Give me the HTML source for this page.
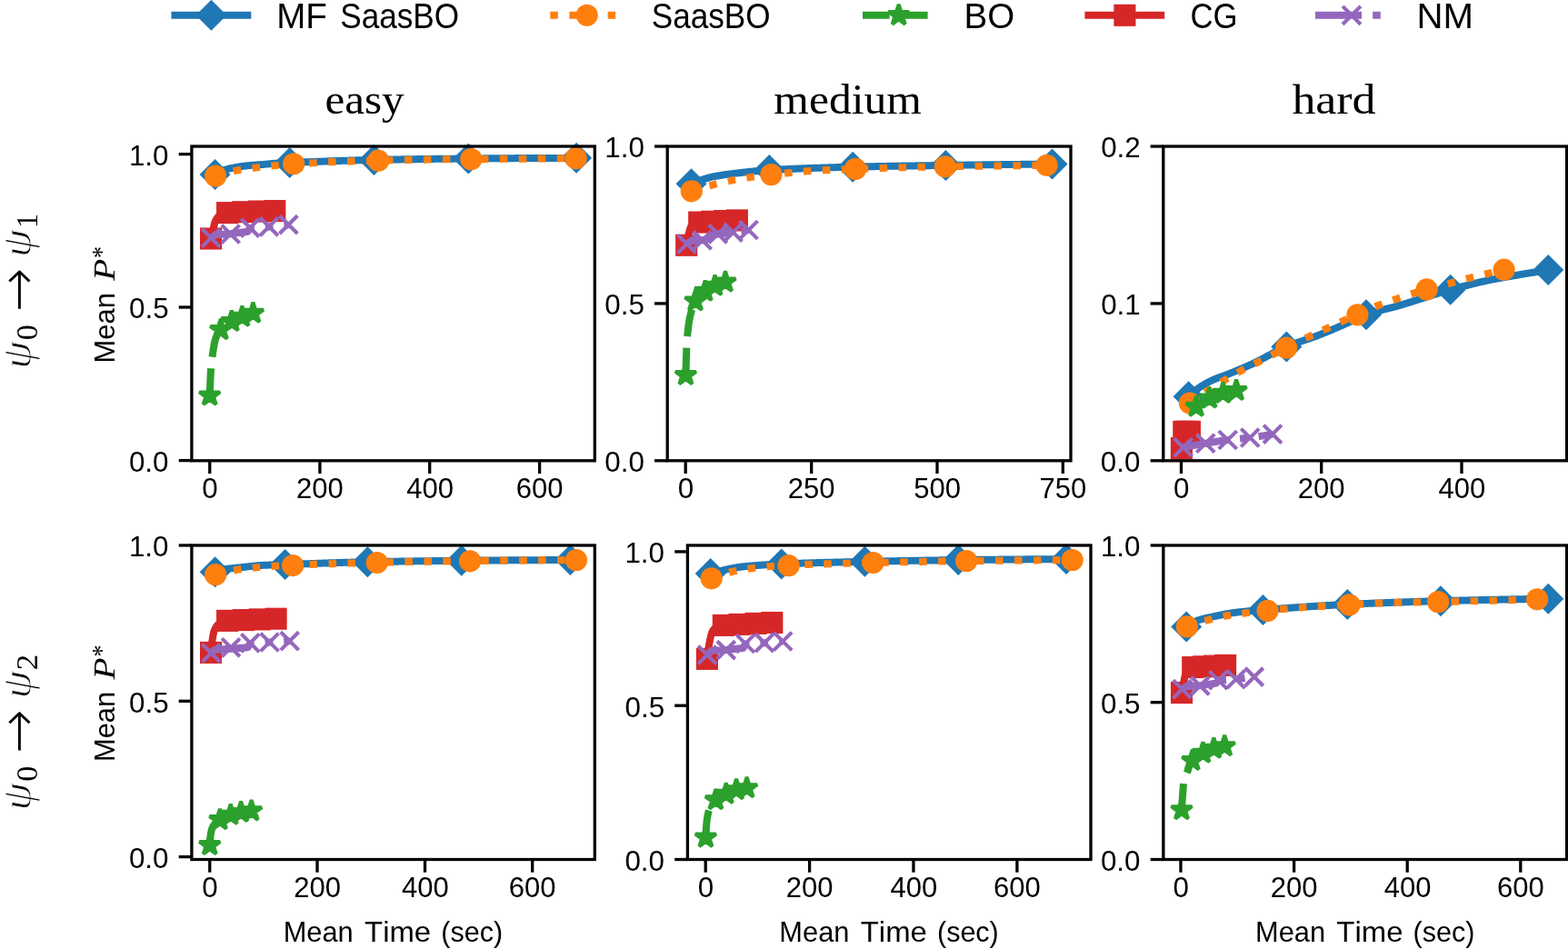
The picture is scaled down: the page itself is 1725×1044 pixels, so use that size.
<!DOCTYPE html>
<html lang="en"><head><meta charset="utf-8"><title>Mean P* vs Mean Time</title>
<style>
html,body{margin:0;padding:0;background:#fff}
body{width:1725px;height:1044px;overflow:hidden}
svg{display:block}
text{fill:#000;font-kerning:none}
</style></head>
<body>
<svg width="1725" height="1044" viewBox="0 0 1725 1044">
<rect width="1725" height="1044" fill="#fff"/>
<path d="M236.55 192.06L237.55 191.52L238.55 190.98L239.55 190.45L240.56 189.93L241.56 189.42L242.56 188.94L243.56 188.47L244.56 188.02L245.56 187.6L246.56 187.21L247.57 186.84L248.57 186.51L249.57 186.22L250 186.1L250.57 185.95L251.57 185.7L252.57 185.46L253.57 185.23L254.57 185.01L255.58 184.79L256.58 184.59L257.58 184.39L258.58 184.2L259.58 184.01L260.58 183.84L261.58 183.67L262.59 183.51L263.59 183.35L264.59 183.2L265.59 183.06L266.59 182.92L267.59 182.79L268.59 182.66L269.6 182.55L270.6 182.43L271.6 182.32L271.8 182.3L272.6 182.22L273.6 182.12L274.6 182.03L275.6 181.94L276.61 181.86L277.61 181.78L278.61 181.71L279.61 181.64L280.61 181.57L281.61 181.5L282.61 181.43L283.62 181.36L284.62 181.29L285.62 181.22L286.62 181.15L287.62 181.07L288.5 181L288.62 180.99L289.62 180.91L290.62 180.82L291.63 180.73L292.63 180.64L293.63 180.55L294.63 180.46L295.63 180.36L296.63 180.27L297.63 180.18L298.64 180.09L299.64 180L300.64 179.92L301.64 179.84L302.64 179.77L303.64 179.7L304.64 179.63L305.2 179.6L305.65 179.57L306.65 179.52L307.65 179.47L308.65 179.42L309.65 179.37L310.65 179.33L311.65 179.28L312.66 179.24L313.66 179.2L314.66 179.16L315.66 179.12L316.66 179.08L317.66 179.04L318.66 179L318.7 179L319.66 178.96L320.67 178.92L321.67 178.88L322.67 178.84L323.67 178.8L324.67 178.76L325.67 178.72L326.67 178.68L327.68 178.64L328.68 178.6L329.68 178.56L330.68 178.53L331.68 178.49L332.68 178.45L333.68 178.41L334.69 178.37L335.69 178.33L336.69 178.29L337.69 178.25L338.69 178.21L339.69 178.17L340.69 178.13L341.7 178.09L342.7 178.05L343.7 178.01L344.7 177.98L345.7 177.94L346.7 177.9L347.7 177.86L348.71 177.82L349.71 177.78L350.71 177.75L351.71 177.71L352.71 177.67L353.71 177.63L354.71 177.59L355.71 177.56L356.72 177.52L357.72 177.48L358.72 177.45L359.72 177.41L360.72 177.37L361.72 177.34L362.72 177.3L363.73 177.26L364.73 177.23L365.73 177.19L366.73 177.16L367.73 177.12L368.73 177.09L369.73 177.05L370.74 177.02L371.74 176.99L372.74 176.95L373.74 176.92L374.74 176.89L375.74 176.85L376.74 176.82L377.75 176.79L378.75 176.76L379.75 176.72L380.75 176.69L381.75 176.66L382.75 176.63L383.75 176.6L384.76 176.57L385.76 176.54L386.76 176.51L387.76 176.48L388.76 176.45L389.76 176.42L390.76 176.4L391.76 176.37L392.77 176.34L393.77 176.31L394.77 176.29L395.77 176.26L396.77 176.23L397.77 176.21L398.77 176.18L399.78 176.16L400.78 176.13L401.78 176.11L402.78 176.09L403.78 176.06L404.78 176.04L405.78 176.02L406.79 176L407.79 175.98L408.79 175.95L409.79 175.93L410.79 175.91L411.5 175.9L411.79 175.89L412.79 175.88L413.8 175.86L414.8 175.84L415.8 175.82L416.8 175.8L417.8 175.78L418.8 175.76L419.8 175.74L420.8 175.72L421.81 175.71L422.81 175.69L423.81 175.67L424.81 175.65L425.81 175.63L426.81 175.62L427.81 175.6L428.82 175.58L429.82 175.56L430.82 175.55L431.82 175.53L432.82 175.51L433.82 175.5L434.82 175.48L435.83 175.46L436.83 175.45L437.83 175.43L438.83 175.41L439.83 175.4L440.83 175.38L441.83 175.37L442.84 175.35L443.84 175.33L444.84 175.32L445.84 175.3L446.84 175.29L447.84 175.27L448.84 175.26L449.85 175.24L450.85 175.23L451.85 175.21L452.85 175.2L453.85 175.18L454.85 175.17L455.85 175.16L456.85 175.14L457.86 175.13L458.86 175.11L459.86 175.1L460.86 175.09L461.86 175.07L462.86 175.06L463.86 175.04L464.87 175.03L465.87 175.02L466.87 175L467.87 174.99L468.87 174.98L469.87 174.97L470.87 174.95L471.88 174.94L472.88 174.93L473.88 174.92L474.88 174.9L475.88 174.89L476.88 174.88L477.88 174.87L478.89 174.86L479.89 174.84L480.89 174.83L481.89 174.82L482.89 174.81L483.89 174.8L484.89 174.79L485.89 174.78L486.9 174.77L487.9 174.75L488.9 174.74L489.9 174.73L490.9 174.72L491.9 174.71L492.9 174.7L493.91 174.69L494.91 174.68L495.91 174.67L496.91 174.66L497.91 174.65L498.91 174.64L499.91 174.63L500.92 174.62L501.92 174.61L502.92 174.61L503.92 174.6L504.92 174.59L505.92 174.58L506.92 174.57L507.93 174.56L508.93 174.55L509.93 174.54L510.93 174.54L511.93 174.53L512.93 174.52L513.93 174.51L514.94 174.5L515.3 174.5L515.94 174.49L516.94 174.49L517.94 174.48L518.94 174.47L519.94 174.46L520.94 174.46L521.94 174.45L522.95 174.44L523.95 174.43L524.95 174.42L525.95 174.42L526.95 174.41L527.95 174.4L528.95 174.39L529.96 174.39L530.96 174.38L531.96 174.37L532.96 174.36L533.96 174.36L534.96 174.35L535.96 174.34L536.97 174.33L537.97 174.33L538.97 174.32L539.97 174.31L540.97 174.3L541.97 174.3L542.97 174.29L543.98 174.28L544.98 174.27L545.98 174.27L546.98 174.26L547.98 174.25L548.98 174.25L549.98 174.24L550.99 174.23L551.99 174.22L552.99 174.22L553.99 174.21L554.99 174.2L555.99 174.2L556.99 174.19L557.99 174.18L559 174.18L560 174.17L561 174.16L562 174.16L563 174.15L564 174.14L565 174.14L566.01 174.13L567.01 174.12L568.01 174.12L569.01 174.11L570.01 174.1L571.01 174.1L572.01 174.09L573.02 174.09L574.02 174.08L575.02 174.07L576.02 174.07L577.02 174.06L578.02 174.06L579.02 174.05L580.03 174.05L581.03 174.04L582.03 174.03L583.03 174.03L584.03 174.02L585.03 174.02L586.03 174.01L587.03 174.01L588.04 174L589.04 174L590.04 173.99L591.04 173.99L592.04 173.98L593.04 173.98L594.04 173.97L595.05 173.97L596.05 173.96L597.05 173.96L598.05 173.95L599.05 173.95L600.05 173.95L601.05 173.94L602.06 173.94L603.06 173.93L604.06 173.93L605.06 173.93L606.06 173.92L607.06 173.92L608.06 173.91L609.07 173.91L610.07 173.91L611.07 173.9L612.07 173.9L613.07 173.9L614.07 173.89L615.07 173.89L616.08 173.89L617.08 173.88L618.08 173.88L619.08 173.88L620.08 173.88L621.08 173.87L622.08 173.87L623.08 173.87L624.09 173.87L625.09 173.86L626.09 173.86L627.09 173.86L628.09 173.86L629.09 173.86L630.09 173.86L631.1 173.85L632.1 173.85L633.1 173.85L634.1 173.85" fill="none" stroke="#1f77b4" stroke-width="8" stroke-linecap="square" stroke-linejoin="round"/>
<path d="M236.55 175.06L253.55 192.06L236.55 209.06L219.55 192.06Z" fill="#1f77b4"/>
<path d="M318.7 162L335.7 179L318.7 196L301.7 179Z" fill="#1f77b4"/>
<path d="M411.5 158.9L428.5 175.9L411.5 192.9L394.5 175.9Z" fill="#1f77b4"/>
<path d="M515.3 157.5L532.3 174.5L515.3 191.5L498.3 174.5Z" fill="#1f77b4"/>
<path d="M634.1 156.85L651.1 173.85L634.1 190.85L617.1 173.85Z" fill="#1f77b4"/>
<path d="M237.1 193.65L238.1 193.33L239.1 193.02L240.1 192.71L241.11 192.4L242.11 192.1L243.11 191.81L244.11 191.52L245.11 191.23L246.11 190.95L247.11 190.67L248.11 190.4L249.12 190.14L250.12 189.88L251.12 189.63L252.12 189.38L253.12 189.14L254.12 188.9L255.12 188.67L256.12 188.45L257.13 188.23L258.13 188.02L259.13 187.82L260.13 187.62L261.13 187.43L261.3 187.4L262.13 187.25L263.13 187.07L264.13 186.9L265.14 186.73L266.14 186.57L267.14 186.41L268.14 186.26L269.14 186.11L270.14 185.96L271.14 185.82L272.14 185.68L273.15 185.54L274.15 185.4L275.15 185.27L276.15 185.14L277.15 185.01L278.15 184.88L279.15 184.76L280.15 184.63L281.16 184.51L282 184.4L282.16 184.38L283.16 184.26L284.16 184.14L285.16 184.02L286.16 183.9L287.16 183.78L288.16 183.67L289.17 183.55L290.17 183.44L291.17 183.33L292.17 183.22L293.17 183.11L294.17 183.01L295.17 182.9L296.17 182.8L297.18 182.7L298.18 182.59L299.18 182.49L300.18 182.39L301.18 182.29L302.18 182.19L303.1 182.1L303.18 182.09L304.18 181.99L305.19 181.89L306.19 181.79L307.19 181.69L308.19 181.59L309.19 181.49L310.19 181.4L311.19 181.3L312.19 181.2L313.2 181.11L314.2 181.01L315.2 180.92L316.2 180.83L317.2 180.75L318.2 180.66L319.2 180.58L320.2 180.5L321.21 180.43L322.21 180.36L323.1 180.3L323.21 180.29L324.21 180.23L325.21 180.17L326.21 180.11L327.21 180.06L328.21 180L329.22 179.95L330.22 179.9L331.22 179.85L332.22 179.8L333.22 179.76L334.22 179.71L335.22 179.66L336.23 179.62L337.23 179.57L338.23 179.53L339.23 179.48L340.23 179.44L341.23 179.39L342.23 179.35L343.23 179.3L344.24 179.25L345.2 179.2L345.24 179.2L346.24 179.15L347.24 179.09L348.24 179.04L349.24 178.98L350.24 178.93L351.24 178.87L352.25 178.81L353.25 178.76L354.25 178.7L355.25 178.64L356.25 178.59L357.25 178.53L358.25 178.48L359.25 178.42L360.26 178.37L361.26 178.32L362.26 178.27L363.26 178.22L364.26 178.17L365.26 178.13L366 178.1L366.26 178.09L367.26 178.05L368.27 178.01L369.27 177.97L370.27 177.93L371.27 177.9L372.27 177.86L373.27 177.83L374.27 177.79L375.27 177.76L376.28 177.72L377.28 177.69L378.28 177.66L379.28 177.63L380.28 177.6L381.28 177.57L382.28 177.54L383.28 177.51L384.29 177.48L385.29 177.45L386.29 177.42L387 177.4L387.29 177.39L388.29 177.36L389.29 177.34L390.29 177.31L391.29 177.28L392.3 177.26L393.3 177.23L394.3 177.21L395.3 177.18L396.3 177.16L397.3 177.13L398.3 177.11L399.3 177.09L400.31 177.06L401.31 177.04L402.31 177.02L403.31 177L404.31 176.97L405.31 176.95L406.31 176.93L407.31 176.9L408.32 176.88L409.32 176.86L410.32 176.84L411.32 176.81L412.32 176.79L413.32 176.77L414.32 176.74L415.32 176.72L416.2 176.7L416.33 176.7L417.33 176.67L418.33 176.65L419.33 176.62L420.33 176.6L421.33 176.57L422.33 176.55L423.33 176.52L424.34 176.5L425.34 176.47L426.34 176.44L427.34 176.42L428.34 176.39L429.34 176.37L430.34 176.34L431.34 176.32L432.35 176.29L433.35 176.26L434.35 176.24L435.35 176.21L436.35 176.19L437.35 176.16L438.35 176.14L439.36 176.12L440.36 176.09L441.36 176.07L442.36 176.05L443.36 176.03L444.36 176.01L445.36 175.98L446.36 175.96L447.37 175.94L448.37 175.93L449.37 175.91L449.8 175.9L450.37 175.89L451.37 175.87L452.37 175.86L453.37 175.84L454.37 175.83L455.38 175.81L456.38 175.8L457.38 175.78L458.38 175.77L459.38 175.75L460.38 175.74L461.38 175.73L462.38 175.71L463.39 175.7L464.39 175.69L465.39 175.68L466.39 175.66L467.39 175.65L468.39 175.63L469.39 175.62L470.39 175.61L470.9 175.6L471.4 175.59L472.4 175.58L473.4 175.56L474.4 175.55L475.4 175.53L476.4 175.52L477.4 175.5L478.4 175.49L479.41 175.47L480.41 175.45L481.41 175.44L482.41 175.42L483.41 175.41L484.41 175.39L485.41 175.38L486.41 175.37L487.42 175.35L488.42 175.34L489.42 175.33L490.42 175.32L491.42 175.3L491.9 175.3L492.42 175.29L493.42 175.29L494.42 175.28L495.43 175.27L496.43 175.26L497.43 175.25L498.43 175.24L499.43 175.23L500.43 175.23L501.43 175.22L502.43 175.21L503.44 175.2L504.44 175.2L505.44 175.19L506.44 175.18L507.44 175.18L508.44 175.17L509.44 175.16L510.44 175.16L511.45 175.15L512.45 175.14L513.45 175.14L514.45 175.13L515.45 175.12L516.45 175.11L517.45 175.11L518.3 175.1L518.45 175.1L519.46 175.09L520.46 175.08L521.46 175.08L522.46 175.07L523.46 175.06L524.46 175.05L525.46 175.05L526.46 175.04L527.47 175.03L528.47 175.02L529.47 175.01L530.47 175.01L531.47 175L532.47 174.99L533.47 174.98L534.48 174.98L535.48 174.97L536.48 174.96L537.48 174.95L538.48 174.94L539.48 174.94L540.48 174.93L541.48 174.92L542.49 174.91L543.49 174.91L544.49 174.9L545.49 174.89L546.49 174.88L547.49 174.88L548.49 174.87L549.49 174.86L550.5 174.85L551.5 174.84L552.5 174.84L553.5 174.83L554.5 174.82L555.5 174.81L556.5 174.81L557.5 174.8L558.51 174.79L559.51 174.78L560.51 174.77L561.51 174.77L562.51 174.76L563.51 174.75L564.51 174.74L565.51 174.74L566.52 174.73L567.52 174.72L568.52 174.71L569.52 174.7L570.52 174.7L571.52 174.69L572.52 174.68L573.52 174.67L574.53 174.67L575.53 174.66L576.53 174.65L577.53 174.64L578.53 174.63L579.53 174.63L580.53 174.62L581.53 174.61L582.54 174.6L583.54 174.6L584.54 174.59L585.54 174.58L586.54 174.57L587.54 174.56L588.54 174.56L589.54 174.55L590.55 174.54L591.55 174.53L592.55 174.52L593.55 174.52L594.55 174.51L595.55 174.5L596.55 174.49L597.55 174.49L598.56 174.48L599.56 174.47L600.56 174.46L601.56 174.45L602.56 174.45L603.56 174.44L604.56 174.43L605.56 174.42L606.57 174.41L607.57 174.41L608.57 174.4L609.57 174.39L610.57 174.38L611.57 174.38L612.57 174.37L613.57 174.36L614.58 174.35L615.58 174.34L616.58 174.34L617.58 174.33L618.58 174.32L619.58 174.31L620.58 174.3L621.58 174.3L622.59 174.29L623.59 174.28L624.59 174.27L625.59 174.26L626.59 174.26L627.59 174.25L628.59 174.24L629.59 174.23L630.6 174.22L631.6 174.22L632.6 174.21L633.6 174.2" fill="none" stroke="#ff7f0e" stroke-width="8" stroke-linecap="butt" stroke-linejoin="round" stroke-dasharray="8.5 12.47" stroke-dashoffset="0.5"/>
<circle cx="237.1" cy="193.65" r="12.1" fill="#ff7f0e"/>
<circle cx="323.1" cy="180.3" r="12.1" fill="#ff7f0e"/>
<circle cx="416.2" cy="176.7" r="12.1" fill="#ff7f0e"/>
<circle cx="518.3" cy="175.1" r="12.1" fill="#ff7f0e"/>
<circle cx="633.6" cy="174.2" r="12.1" fill="#ff7f0e"/>
<path d="M230.7 435.2L231.71 410.98L232.1 405L232.73 398.52L233.5 392.7L233.74 390.94L234.76 384.03L235.77 378.18L236.5 375L236.79 373.96L237.8 370.75L238.82 368.2L239.6 366.7L239.83 366.32L240.85 364.89L241.86 363.74L242.8 362.8L242.88 362.72L243.89 361.75L244.91 360.83L245.92 359.94L246.94 359.09L247.95 358.28L248.97 357.5L249.98 356.76L251 356.05L252.01 355.38L253.03 354.74L254.04 354.13L254.8 353.7L255.06 353.56L256.07 353.01L257.09 352.48L258.1 351.98L259.12 351.5L260.13 351.04L261.15 350.6L262.16 350.18L263.18 349.76L264.19 349.36L265.21 348.96L266.22 348.57L266.4 348.5L267.24 348.18L268.25 347.8L269.27 347.43L270.28 347.07L271.3 346.71L272.31 346.37L273.33 346.03L274.34 345.7L275.36 345.39L276.37 345.08L277.39 344.78L278.4 344.5" fill="none" stroke="#2ca02c" stroke-width="8" stroke-linecap="butt" stroke-linejoin="round" stroke-dasharray="30 12.6"/>
<polygon points="230.7,423.2 233.39,431.49 242.11,431.49 235.06,436.62 237.75,444.91 230.7,439.78 223.65,444.91 226.34,436.62 219.29,431.49 228.01,431.49" fill="#2ca02c" stroke="#2ca02c" stroke-width="4" stroke-linejoin="bevel"/>
<polygon points="242.8,350.8 245.49,359.09 254.21,359.09 247.16,364.22 249.85,372.51 242.8,367.38 235.75,372.51 238.44,364.22 231.39,359.09 240.11,359.09" fill="#2ca02c" stroke="#2ca02c" stroke-width="4" stroke-linejoin="bevel"/>
<polygon points="254.8,341.7 257.49,349.99 266.21,349.99 259.16,355.12 261.85,363.41 254.8,358.28 247.75,363.41 250.44,355.12 243.39,349.99 252.11,349.99" fill="#2ca02c" stroke="#2ca02c" stroke-width="4" stroke-linejoin="bevel"/>
<polygon points="266.4,336.5 269.09,344.79 277.81,344.79 270.76,349.92 273.45,358.21 266.4,353.08 259.35,358.21 262.04,349.92 254.99,344.79 263.71,344.79" fill="#2ca02c" stroke="#2ca02c" stroke-width="4" stroke-linejoin="bevel"/>
<polygon points="278.4,332.5 281.09,340.79 289.81,340.79 282.76,345.92 285.45,354.21 278.4,349.08 271.35,354.21 274.04,345.92 266.99,340.79 275.71,340.79" fill="#2ca02c" stroke="#2ca02c" stroke-width="4" stroke-linejoin="bevel"/>
<path d="M232.05 262.5L233.05 258.37L234.06 254.24L234.6 252L235.06 249.97L236.06 245.72L236.3 245L237.07 243.1L238.07 241.07L239.08 239.52L239.5 239L240.08 238.37L241.08 237.39L242.09 236.56L243.09 235.92L244 235.5L244.09 235.47L245.1 235.13L246.1 234.83L247.1 234.58L248.11 234.38L249.11 234.22L250.1 234.1L250.11 234.1L251.12 234.01L252.12 233.93L253.12 233.85L254.13 233.78L255.13 233.72L256.14 233.67L257.14 233.61L258.14 233.57L259.15 233.52L260.15 233.48L261.15 233.44L262.16 233.4L263.16 233.37L264.16 233.33L265.17 233.29L266.17 233.25L267.18 233.21L267.3 233.2L268.18 233.16L269.18 233.12L270.19 233.07L271.19 233.03L272.19 232.99L273.2 232.95L274.2 232.91L275.2 232.87L276.21 232.83L277.21 232.79L278.21 232.75L279.22 232.71L280.22 232.67L281.23 232.64L282.23 232.6L283.23 232.57L284.24 232.53L285.2 232.5L285.24 232.5L286.24 232.47L287.25 232.43L288.25 232.4L289.25 232.37L290.26 232.34L291.26 232.31L292.26 232.28L293.27 232.24L294.27 232.22L295.28 232.19L296.28 232.16L297.28 232.13L298.29 232.1L299.29 232.08L300.29 232.05L301.3 232.02L302.3 232" fill="none" stroke="#d62728" stroke-width="8" stroke-linecap="square" stroke-linejoin="round"/>
<rect x="220" y="250.45" width="24.1" height="24.1" fill="#d62728"/>
<rect x="238.05" y="222.05" width="24.1" height="24.1" fill="#d62728"/>
<rect x="255.25" y="221.15" width="24.1" height="24.1" fill="#d62728"/>
<rect x="273.15" y="220.45" width="24.1" height="24.1" fill="#d62728"/>
<rect x="290.25" y="219.95" width="24.1" height="24.1" fill="#d62728"/>
<path d="M232.1 261.7L237 258.3L253.7 257.3L265 255.8L272.5 254.8L275.1 251L285 250.3L294 250L296 249.3L306 248.5L315 248L317.4 247.1" fill="none" stroke="#9467bd" stroke-width="8" stroke-linecap="butt" stroke-linejoin="round" stroke-dasharray="51.1 12 8.7 12"/>
<path d="M222.2 251.8L242 271.6M222.2 271.6L242 251.8" stroke="#9467bd" stroke-width="4.1" fill="none"/>
<path d="M243.8 247.6L263.6 267.4M243.8 267.4L263.6 247.6" stroke="#9467bd" stroke-width="4.1" fill="none"/>
<path d="M265.2 240.7L285 260.5M265.2 260.5L285 240.7" stroke="#9467bd" stroke-width="4.1" fill="none"/>
<path d="M286.1 239.4L305.9 259.2M286.1 259.2L305.9 239.4" stroke="#9467bd" stroke-width="4.1" fill="none"/>
<path d="M307.5 237.2L327.3 257M307.5 257L327.3 237.2" stroke="#9467bd" stroke-width="4.1" fill="none"/>
<path d="M230.75 506.8V521" stroke="#000" stroke-width="3.3"/>
<path d="M351.9 506.8V521" stroke="#000" stroke-width="3.3"/>
<path d="M472.7 506.8V521" stroke="#000" stroke-width="3.3"/>
<path d="M593.6 506.8V521" stroke="#000" stroke-width="3.3"/>
<path d="M210.9 506.6H196.7" stroke="#000" stroke-width="3.3"/>
<path d="M210.9 338H196.7" stroke="#000" stroke-width="3.3"/>
<path d="M210.9 169.6H196.7" stroke="#000" stroke-width="3.3"/>
<rect x="210.9" y="161" width="443.4" height="345.8" fill="none" stroke="#000" stroke-width="3.3"/>
<text transform="translate(222.23 547.8) scale(0.9800 1)" font-family='"Liberation Sans", sans-serif' font-size="32">0</text>
<text transform="translate(326.03 547.8) scale(0.9700 1)" font-family='"Liberation Sans", sans-serif' font-size="32">200</text>
<text transform="translate(447.26 547.8) scale(0.9700 1)" font-family='"Liberation Sans", sans-serif' font-size="32">400</text>
<text transform="translate(567.72 547.8) scale(0.9700 1)" font-family='"Liberation Sans", sans-serif' font-size="32">600</text>
<text transform="translate(141.93 519) scale(0.9800 1)" font-family='"Liberation Sans", sans-serif' font-size="32">0.0</text>
<text transform="translate(142.02 350.4) scale(0.9800 1)" font-family='"Liberation Sans", sans-serif' font-size="32">0.5</text>
<text transform="translate(141.93 182) scale(0.9800 1)" font-family='"Liberation Sans", sans-serif' font-size="32">1.0</text>
<path d="M760.5 202.2L761.5 201.8L762.5 201.4L763.5 201L764.5 200.61L765.5 200.23L766.5 199.85L767.5 199.48L768.5 199.12L769.5 198.76L770.5 198.41L771.5 198.06L772.5 197.73L773.5 197.4L774.5 197.08L775.5 196.77L776.5 196.47L777.5 196.17L778.5 195.89L779.5 195.62L780.5 195.35L781.5 195.1L782.5 194.86L783.5 194.63L784.5 194.41L785.5 194.2L786.5 194L787.5 193.81L788.5 193.62L789.5 193.44L790.5 193.26L791.5 193.09L792.5 192.93L793.5 192.77L794.5 192.61L795.5 192.46L796.5 192.31L797.5 192.16L798.5 192.02L799.5 191.88L800.5 191.75L801.5 191.62L802.5 191.49L803.5 191.36L804.5 191.23L805.5 191.11L806.5 190.99L807.5 190.87L808.5 190.75L809.5 190.63L810.5 190.51L810.6 190.5L811.5 190.39L812.5 190.28L813.5 190.16L814.5 190.05L815.5 189.93L816.5 189.82L817.5 189.7L818.5 189.59L819.5 189.48L820.5 189.37L821.5 189.26L822.5 189.15L823.5 189.04L824.5 188.94L825.5 188.83L826.5 188.73L827.5 188.63L828.5 188.53L829.5 188.43L830.5 188.33L831.5 188.24L832.5 188.15L833.5 188.06L834.5 187.97L835.5 187.88L836.5 187.8L837.5 187.71L838.5 187.63L839.5 187.56L840.5 187.48L841.5 187.41L842.5 187.34L843.5 187.27L844.5 187.21L845.5 187.15L846.3 187.1L846.5 187.09L847.5 187.03L848.5 186.97L849.5 186.92L850.5 186.86L851.5 186.81L852.5 186.75L853.5 186.7L854.5 186.65L855.5 186.59L856.5 186.54L857.5 186.49L858.5 186.44L859.5 186.39L860.5 186.34L861.5 186.29L862.5 186.24L863.5 186.19L864.5 186.14L865.5 186.1L866.5 186.05L867.5 186L868.5 185.96L869.5 185.91L870.5 185.86L871.5 185.82L872.5 185.77L873.5 185.73L874.5 185.69L875.5 185.64L876.5 185.6L877.5 185.56L878.5 185.52L879.5 185.48L880.5 185.44L881.5 185.4L882.5 185.36L883.5 185.32L884.5 185.28L885.5 185.24L886.5 185.2L887.5 185.16L888.5 185.12L889.5 185.09L890.5 185.05L891.5 185.01L892.5 184.98L893.5 184.94L894.5 184.91L895.5 184.87L896.5 184.84L897.5 184.8L898.5 184.77L899.5 184.73L900.5 184.7L901.5 184.67L902.5 184.64L903.5 184.6L904.5 184.57L905.5 184.54L906.5 184.51L907.5 184.48L908.5 184.45L909.5 184.42L910.5 184.39L911.5 184.36L912.5 184.33L913.5 184.3L914.5 184.27L915.5 184.24L916.5 184.21L917.5 184.18L918.5 184.15L919.5 184.13L920.5 184.1L921.5 184.07L922.5 184.05L923.5 184.02L924.5 183.99L925.5 183.97L926.5 183.94L927.5 183.91L928.5 183.89L929.5 183.86L930.5 183.84L931.5 183.81L932.5 183.79L933.5 183.76L934.5 183.74L935.5 183.71L936.5 183.69L937.5 183.67L938.2 183.65L938.5 183.64L939.5 183.62L940.5 183.6L941.5 183.57L942.5 183.55L943.5 183.53L944.5 183.5L945.5 183.48L946.5 183.46L947.5 183.44L948.5 183.42L949.5 183.39L950.5 183.37L951.5 183.35L952.5 183.33L953.5 183.31L954.5 183.29L955.5 183.27L956.5 183.25L957.5 183.23L958.5 183.21L959.5 183.19L960.5 183.17L961.5 183.15L962.5 183.13L963.5 183.11L964.5 183.09L965.5 183.07L966.5 183.05L967.5 183.03L968.5 183.01L969.5 182.99L970.5 182.98L971.5 182.96L972.5 182.94L973.5 182.92L974.5 182.9L975.5 182.88L976.5 182.87L977.5 182.85L978.5 182.83L979.5 182.81L980.5 182.8L981.5 182.78L982.5 182.76L983.5 182.75L984.5 182.73L985.5 182.71L986.5 182.7L987.5 182.68L988.5 182.66L989.5 182.65L990.5 182.63L991.5 182.61L992.5 182.6L993.5 182.58L994.5 182.57L995.5 182.55L996.5 182.53L997.5 182.52L998.5 182.5L999.5 182.49L1000.5 182.47L1001.5 182.46L1002.5 182.44L1003.5 182.43L1004.5 182.41L1005.5 182.4L1006.5 182.38L1007.5 182.37L1008.5 182.35L1009.5 182.34L1010.5 182.32L1011.5 182.31L1012.5 182.29L1013.5 182.28L1014.5 182.26L1015.5 182.25L1016.5 182.24L1017.5 182.22L1018.5 182.21L1019.5 182.19L1020.5 182.18L1021.5 182.16L1022.5 182.15L1023.5 182.14L1024.5 182.12L1025.5 182.11L1026.5 182.09L1027.5 182.08L1028.5 182.07L1029.5 182.05L1030.5 182.04L1031.5 182.02L1032.5 182.01L1033.5 182L1034.5 181.98L1035.5 181.97L1036.5 181.95L1037.5 181.94L1038.5 181.93L1039.5 181.91L1040.4 181.9L1040.5 181.9L1041.5 181.88L1042.5 181.87L1043.5 181.86L1044.5 181.84L1045.5 181.83L1046.5 181.82L1047.5 181.8L1048.5 181.79L1049.5 181.78L1050.5 181.76L1051.5 181.75L1052.5 181.73L1053.5 181.72L1054.5 181.71L1055.5 181.69L1056.5 181.68L1057.5 181.67L1058.5 181.65L1059.5 181.64L1060.5 181.63L1061.5 181.61L1062.5 181.6L1063.5 181.59L1064.5 181.58L1065.5 181.56L1066.5 181.55L1067.5 181.54L1068.5 181.52L1069.5 181.51L1070.5 181.5L1071.5 181.48L1072.5 181.47L1073.5 181.46L1074.5 181.45L1075.5 181.43L1076.5 181.42L1077.5 181.41L1078.5 181.4L1079.5 181.38L1080.5 181.37L1081.5 181.36L1082.5 181.35L1083.5 181.33L1084.5 181.32L1085.5 181.31L1086.5 181.3L1087.5 181.28L1088.5 181.27L1089.5 181.26L1090.5 181.25L1091.5 181.24L1092.5 181.22L1093.5 181.21L1094.5 181.2L1095.5 181.19L1096.5 181.18L1097.5 181.16L1098.5 181.15L1099.5 181.14L1100.5 181.13L1101.5 181.12L1102.5 181.11L1103.5 181.09L1104.5 181.08L1105.5 181.07L1106.5 181.06L1107.5 181.05L1108.5 181.04L1109.5 181.03L1110.5 181.02L1111.5 181L1112.5 180.99L1113.5 180.98L1114.5 180.97L1115.5 180.96L1116.5 180.95L1117.5 180.94L1118.5 180.93L1119.5 180.92L1120.5 180.91L1121.5 180.9L1122.5 180.89L1123.5 180.87L1124.5 180.86L1125.5 180.85L1126.5 180.84L1127.5 180.83L1128.5 180.82L1129.5 180.81L1130.5 180.8L1131.5 180.79L1132.5 180.78L1133.5 180.77L1134.5 180.76L1135.5 180.75L1136.5 180.74L1137.5 180.73L1138.5 180.72L1139.5 180.71L1140.5 180.7L1141.5 180.69L1142.5 180.68L1143.5 180.68L1144.5 180.67L1145.5 180.66L1146.5 180.65L1147.5 180.64L1148.5 180.63L1149.5 180.62L1150.5 180.61L1151.5 180.6L1152.5 180.59L1153.5 180.58L1154.5 180.58L1155.5 180.57L1156.5 180.56L1157.5 180.55" fill="none" stroke="#1f77b4" stroke-width="8" stroke-linecap="square" stroke-linejoin="round"/>
<path d="M760.5 185.2L777.5 202.2L760.5 219.2L743.5 202.2Z" fill="#1f77b4"/>
<path d="M846.3 170.1L863.3 187.1L846.3 204.1L829.3 187.1Z" fill="#1f77b4"/>
<path d="M938.2 166.65L955.2 183.65L938.2 200.65L921.2 183.65Z" fill="#1f77b4"/>
<path d="M1040.4 164.9L1057.4 181.9L1040.4 198.9L1023.4 181.9Z" fill="#1f77b4"/>
<path d="M1157.5 163.55L1174.5 180.55L1157.5 197.55L1140.5 180.55Z" fill="#1f77b4"/>
<path d="M760.8 210.3L761.8 209.98L762.8 209.66L763.81 209.34L764.81 209.02L765.81 208.71L766.81 208.4L767.81 208.09L768.82 207.79L769.82 207.49L770.82 207.18L771.82 206.89L772.82 206.59L773.83 206.3L774.83 206.01L775.83 205.72L776.83 205.44L777.83 205.15L778.84 204.88L779.84 204.6L780.84 204.32L781.84 204.05L782.85 203.78L783.85 203.52L784.3 203.4L784.85 203.26L785.85 202.99L786.85 202.73L787.86 202.47L788.86 202.22L789.86 201.96L790.86 201.71L791.86 201.45L792.87 201.2L793.87 200.96L794.87 200.71L795.87 200.47L796.87 200.24L797.88 200L798.88 199.77L799.88 199.55L800.88 199.32L801.88 199.11L802.89 198.89L803.89 198.68L804.89 198.48L805.3 198.4L805.89 198.28L806.89 198.09L807.9 197.9L808.9 197.71L809.9 197.52L810.9 197.34L811.9 197.15L812.91 196.98L813.91 196.8L814.91 196.63L815.91 196.46L816.91 196.29L817.92 196.13L818.92 195.96L819.92 195.8L820.92 195.65L821.93 195.49L822.93 195.34L823.93 195.19L824.93 195.04L825.9 194.9L825.93 194.9L826.94 194.75L827.94 194.61L828.94 194.47L829.94 194.34L830.94 194.2L831.95 194.07L832.95 193.94L833.95 193.81L834.95 193.68L835.95 193.55L836.96 193.43L837.96 193.31L838.96 193.18L839.96 193.06L840.96 192.95L841.97 192.83L842.97 192.71L843.97 192.6L844.97 192.48L845.97 192.37L846.98 192.26L847.98 192.15L848.4 192.1L848.98 192.04L849.98 191.93L850.98 191.82L851.99 191.72L852.99 191.61L853.99 191.51L854.99 191.41L855.99 191.31L857 191.21L858 191.11L859 191.01L860 190.91L861.01 190.82L862.01 190.72L863.01 190.63L864.01 190.53L865.01 190.44L866.02 190.34L867.02 190.25L867.5 190.2L868.02 190.15L869.02 190.05L870.02 189.96L871.03 189.86L872.03 189.76L873.03 189.66L874.03 189.57L875.03 189.47L876.04 189.37L877.04 189.27L878.04 189.18L879.04 189.08L880.04 188.99L881.05 188.9L882.05 188.81L883.05 188.72L884.05 188.64L885.05 188.55L886.06 188.47L887.06 188.4L888.06 188.32L888.4 188.3L889.06 188.25L890.06 188.18L891.07 188.12L892.07 188.05L893.07 187.98L894.07 187.92L895.07 187.86L896.08 187.8L897.08 187.73L898.08 187.68L899.08 187.62L900.09 187.56L901.09 187.5L902.09 187.45L903.09 187.4L904.09 187.34L905.1 187.29L906.1 187.24L907.1 187.19L908.1 187.15L909.1 187.1L909.1 187.1L910.11 187.05L911.11 187.01L912.11 186.96L913.11 186.92L914.11 186.88L915.12 186.84L916.12 186.8L917.12 186.76L918.12 186.72L919.12 186.68L920.13 186.64L921.13 186.6L922.13 186.56L923.13 186.53L924.13 186.49L925.14 186.45L926.14 186.42L927.14 186.38L928.14 186.35L929.14 186.31L930.15 186.28L931.15 186.24L932.15 186.21L933.15 186.17L934.15 186.14L935.16 186.1L936.16 186.07L937.16 186.04L938.16 186L939.17 185.97L940.17 185.93L941.1 185.9L941.17 185.9L942.17 185.86L943.17 185.83L944.18 185.8L945.18 185.76L946.18 185.73L947.18 185.7L948.18 185.66L949.19 185.63L950.19 185.6L951.19 185.57L952.19 185.53L953.19 185.5L954.2 185.47L955.2 185.44L956.2 185.41L957.2 185.38L958.2 185.34L959.21 185.31L960.21 185.28L961.21 185.25L962.21 185.22L963.21 185.19L964.22 185.16L965.22 185.12L966.22 185.09L967.22 185.06L968.22 185.03L969.23 185L970.23 184.96L971.23 184.93L972.2 184.9L972.23 184.9L973.23 184.87L974.24 184.83L975.24 184.8L976.24 184.76L977.24 184.73L978.25 184.69L979.25 184.66L980.25 184.62L981.25 184.59L982.25 184.55L983.26 184.52L984.26 184.48L985.26 184.45L986.26 184.42L987.26 184.38L988.27 184.35L989.27 184.32L990.27 184.29L991.27 184.26L992.27 184.23L993.2 184.2L993.28 184.2L994.28 184.17L995.28 184.14L996.28 184.11L997.28 184.09L998.29 184.06L999.29 184.03L1000.29 184.01L1001.29 183.98L1002.29 183.96L1003.3 183.93L1004.3 183.91L1005.3 183.88L1006.3 183.86L1007.3 183.84L1008.31 183.82L1009.31 183.79L1010.31 183.77L1011.31 183.75L1012.31 183.73L1013.32 183.71L1013.9 183.7L1014.32 183.69L1015.32 183.67L1016.32 183.66L1017.33 183.64L1018.33 183.62L1019.33 183.6L1020.33 183.59L1021.33 183.57L1022.34 183.55L1023.34 183.54L1024.34 183.52L1025.34 183.51L1026.34 183.49L1027.35 183.48L1028.35 183.46L1029.35 183.45L1030.35 183.43L1031.35 183.42L1032.36 183.41L1033.36 183.39L1034.36 183.38L1035.36 183.36L1036.36 183.35L1037.37 183.34L1038.37 183.32L1039.37 183.31L1039.8 183.3L1040.37 183.29L1041.37 183.28L1042.38 183.26L1043.38 183.25L1044.38 183.23L1045.38 183.22L1046.38 183.2L1047.39 183.19L1048.39 183.18L1049.39 183.16L1050.39 183.15L1051.39 183.13L1052.4 183.12L1053.4 183.1L1054.4 183.09L1055.4 183.07L1056.41 183.06L1057.41 183.05L1058.41 183.03L1059.41 183.02L1060.41 183L1061.42 182.99L1062.42 182.97L1063.42 182.96L1064.42 182.95L1065.42 182.93L1066.43 182.92L1067.43 182.9L1068.43 182.89L1069.43 182.87L1070.43 182.86L1071.44 182.85L1072.44 182.83L1073.44 182.82L1074.44 182.8L1075.44 182.79L1076.45 182.78L1077.45 182.76L1078.45 182.75L1079.45 182.73L1080.45 182.72L1081.46 182.71L1082.46 182.69L1083.46 182.68L1084.46 182.66L1085.46 182.65L1086.47 182.64L1087.47 182.62L1088.47 182.61L1089.47 182.6L1090.47 182.58L1091.48 182.57L1092.48 182.55L1093.48 182.54L1094.48 182.53L1095.49 182.51L1096.49 182.5L1097.49 182.49L1098.49 182.47L1099.49 182.46L1100.5 182.45L1101.5 182.43L1102.5 182.42L1103.5 182.41L1104.5 182.39L1105.51 182.38L1106.51 182.37L1107.51 182.35L1108.51 182.34L1109.51 182.33L1110.52 182.31L1111.52 182.3L1112.52 182.29L1113.52 182.27L1114.52 182.26L1115.53 182.25L1116.53 182.23L1117.53 182.22L1118.53 182.21L1119.53 182.2L1120.54 182.18L1121.54 182.17L1122.54 182.16L1123.54 182.14L1124.54 182.13L1125.55 182.12L1126.55 182.11L1127.55 182.09L1128.55 182.08L1129.55 182.07L1130.56 182.06L1131.56 182.04L1132.56 182.03L1133.56 182.02L1134.57 182.01L1135.57 181.99L1136.57 181.98L1137.57 181.97L1138.57 181.96L1139.58 181.94L1140.58 181.93L1141.58 181.92L1142.58 181.91L1143.58 181.9L1144.59 181.88L1145.59 181.87L1146.59 181.86L1147.59 181.85L1148.59 181.84L1149.6 181.82L1150.6 181.81L1151.6 181.8" fill="none" stroke="#ff7f0e" stroke-width="8" stroke-linecap="butt" stroke-linejoin="round" stroke-dasharray="8.5 12.47" stroke-dashoffset="0.5"/>
<circle cx="760.8" cy="210.3" r="12.1" fill="#ff7f0e"/>
<circle cx="848.4" cy="192.1" r="12.1" fill="#ff7f0e"/>
<circle cx="941.1" cy="185.9" r="12.1" fill="#ff7f0e"/>
<circle cx="1039.8" cy="183.3" r="12.1" fill="#ff7f0e"/>
<circle cx="1151.6" cy="181.8" r="12.1" fill="#ff7f0e"/>
<path d="M754.4 412.6L755.3 383L755.41 380.7L756.1 370.5L756.43 367.11L757.44 358.23L758.46 351.59L759.1 348.4L759.47 346.82L760.48 342.84L761.5 339.39L762.51 336.44L763.53 333.97L764.54 331.96L765 331.2L765.55 330.36L766.57 328.93L767.58 327.65L768.6 326.48L769.61 325.43L770.62 324.46L771.64 323.58L772.65 322.75L773.67 321.98L774.68 321.23L775.69 320.5L775.7 320.5L776.71 319.8L777.72 319.13L778.73 318.49L779.75 317.89L780.76 317.32L781.78 316.77L782.79 316.25L783.8 315.74L784.82 315.26L785.83 314.8L786.5 314.5L786.85 314.35L787.86 313.91L788.87 313.48L789.89 313.06L790.9 312.66L791.92 312.27L792.93 311.9L793.94 311.54L794.96 311.2L795.97 310.88L796.99 310.58L798 310.3" fill="none" stroke="#2ca02c" stroke-width="8" stroke-linecap="butt" stroke-linejoin="round" stroke-dasharray="30 12.6"/>
<polygon points="754.4,400.6 757.09,408.89 765.81,408.89 758.76,414.02 761.45,422.31 754.4,417.18 747.35,422.31 750.04,414.02 742.99,408.89 751.71,408.89" fill="#2ca02c" stroke="#2ca02c" stroke-width="4" stroke-linejoin="bevel"/>
<polygon points="765,319.2 767.69,327.49 776.41,327.49 769.36,332.62 772.05,340.91 765,335.78 757.95,340.91 760.64,332.62 753.59,327.49 762.31,327.49" fill="#2ca02c" stroke="#2ca02c" stroke-width="4" stroke-linejoin="bevel"/>
<polygon points="775.7,308.5 778.39,316.79 787.11,316.79 780.06,321.92 782.75,330.21 775.7,325.08 768.65,330.21 771.34,321.92 764.29,316.79 773.01,316.79" fill="#2ca02c" stroke="#2ca02c" stroke-width="4" stroke-linejoin="bevel"/>
<polygon points="786.5,302.5 789.19,310.79 797.91,310.79 790.86,315.92 793.55,324.21 786.5,319.08 779.45,324.21 782.14,315.92 775.09,310.79 783.81,310.79" fill="#2ca02c" stroke="#2ca02c" stroke-width="4" stroke-linejoin="bevel"/>
<polygon points="798,298.3 800.69,306.59 809.41,306.59 802.36,311.72 805.05,320.01 798,314.88 790.95,320.01 793.64,311.72 786.59,306.59 795.31,306.59" fill="#2ca02c" stroke="#2ca02c" stroke-width="4" stroke-linejoin="bevel"/>
<path d="M755.2 269.8L756.21 264.08L757.23 259.17L757.5 258L758.24 254.95L759.25 251.27L760 249.5L760.26 249.09L761.28 247.72L762.29 246.67L763.3 245.93L764 245.6L764.31 245.49L765.33 245.18L766.34 244.94L767.35 244.74L768.37 244.59L769.2 244.5L769.38 244.48L770.39 244.39L771.4 244.31L772.42 244.23L773.43 244.17L774.44 244.11L775.45 244.06L776.47 244.01L777.48 243.96L778.49 243.92L779.51 243.87L780.52 243.83L781.53 243.78L782.54 243.73L783.2 243.7L783.56 243.68L784.57 243.63L785.58 243.58L786.59 243.52L787.61 243.47L788.62 243.42L789.63 243.37L790.65 243.32L791.66 243.27L792.67 243.22L793.68 243.17L794.7 243.12L795.71 243.07L796.72 243.03L797.3 243L797.73 242.98L798.75 242.93L799.76 242.89L800.77 242.84L801.79 242.79L802.8 242.75L803.81 242.7L804.82 242.66L805.84 242.61L806.85 242.57L807.86 242.53L808.87 242.48L809.89 242.44L810.9 242.4" fill="none" stroke="#d62728" stroke-width="8" stroke-linecap="square" stroke-linejoin="round"/>
<rect x="743.15" y="257.75" width="24.1" height="24.1" fill="#d62728"/>
<rect x="757.15" y="232.45" width="24.1" height="24.1" fill="#d62728"/>
<rect x="771.15" y="231.65" width="24.1" height="24.1" fill="#d62728"/>
<rect x="785.25" y="230.95" width="24.1" height="24.1" fill="#d62728"/>
<rect x="798.85" y="230.35" width="24.1" height="24.1" fill="#d62728"/>
<path d="M755.5 268.4L760.5 265L772.7 264.2L779 263L784 259L789.8 257.3L797 256.8L801 255.3L806.6 255.6L815 254.5L823.6 253" fill="none" stroke="#9467bd" stroke-width="8" stroke-linecap="butt" stroke-linejoin="round" stroke-dasharray="51.1 12 8.7 12"/>
<path d="M745.6 258.5L765.4 278.3M745.6 278.3L765.4 258.5" stroke="#9467bd" stroke-width="4.1" fill="none"/>
<path d="M762.8 254.5L782.6 274.3M762.8 274.3L782.6 254.5" stroke="#9467bd" stroke-width="4.1" fill="none"/>
<path d="M779.9 247.4L799.7 267.2M779.9 267.2L799.7 247.4" stroke="#9467bd" stroke-width="4.1" fill="none"/>
<path d="M796.7 245.75L816.5 265.55M796.7 265.55L816.5 245.75" stroke="#9467bd" stroke-width="4.1" fill="none"/>
<path d="M813.7 243.1L833.5 262.9M813.7 262.9L833.5 243.1" stroke="#9467bd" stroke-width="4.1" fill="none"/>
<path d="M754.2 506.8V521" stroke="#000" stroke-width="3.3"/>
<path d="M892.7 506.8V521" stroke="#000" stroke-width="3.3"/>
<path d="M1031 506.8V521" stroke="#000" stroke-width="3.3"/>
<path d="M1169.3 506.8V521" stroke="#000" stroke-width="3.3"/>
<path d="M734.2 506.8H720" stroke="#000" stroke-width="3.3"/>
<path d="M734.2 333.9H720" stroke="#000" stroke-width="3.3"/>
<path d="M734.2 161H720" stroke="#000" stroke-width="3.3"/>
<rect x="734.2" y="161" width="443.8" height="345.8" fill="none" stroke="#000" stroke-width="3.3"/>
<text transform="translate(745.68 547.8) scale(0.9800 1)" font-family='"Liberation Sans", sans-serif' font-size="32">0</text>
<text transform="translate(866.83 547.8) scale(0.9700 1)" font-family='"Liberation Sans", sans-serif' font-size="32">250</text>
<text transform="translate(1005.29 547.8) scale(0.9700 1)" font-family='"Liberation Sans", sans-serif' font-size="32">500</text>
<text transform="translate(1143.42 547.8) scale(0.9700 1)" font-family='"Liberation Sans", sans-serif' font-size="32">750</text>
<text transform="translate(665.23 519.2) scale(0.9800 1)" font-family='"Liberation Sans", sans-serif' font-size="32">0.0</text>
<text transform="translate(665.32 346.3) scale(0.9800 1)" font-family='"Liberation Sans", sans-serif' font-size="32">0.5</text>
<text transform="translate(665.23 173.4) scale(0.9800 1)" font-family='"Liberation Sans", sans-serif' font-size="32">1.0</text>
<path d="M1307.55 436.15L1308.55 435.22L1309.55 434.31L1310.56 433.41L1311.56 432.54L1312.56 431.68L1313.56 430.84L1314.56 430.02L1315.56 429.23L1316.57 428.46L1317.57 427.71L1318.57 426.99L1319.57 426.29L1320 426L1320.57 425.62L1321.57 424.96L1322.58 424.32L1323.58 423.7L1324.58 423.09L1325.58 422.5L1326.58 421.92L1327.59 421.35L1328.59 420.81L1329.59 420.28L1330.59 419.76L1331.59 419.26L1332.59 418.78L1333.4 418.4L1333.6 418.31L1334.6 417.86L1335.6 417.43L1336.6 417.01L1337.6 416.61L1338.6 416.22L1339.61 415.84L1340.61 415.47L1341.61 415.1L1342.61 414.74L1343.61 414.38L1344.62 414.02L1345.62 413.66L1346.62 413.29L1347.62 412.92L1348.62 412.54L1349.62 412.15L1350 412L1350.63 411.75L1351.63 411.35L1352.63 410.95L1353.63 410.54L1354.63 410.14L1355.64 409.74L1356.64 409.33L1357.64 408.93L1358.64 408.52L1359.64 408.11L1360.64 407.7L1361.65 407.29L1362.65 406.87L1363.65 406.46L1364.65 406.04L1365.65 405.62L1366.65 405.19L1367.66 404.77L1368.66 404.34L1369.66 403.9L1370.66 403.47L1371.66 403.03L1372.67 402.59L1373.67 402.14L1374.67 401.69L1375.1 401.5L1375.67 401.24L1376.67 400.78L1377.67 400.31L1378.68 399.83L1379.68 399.35L1380.68 398.86L1381.68 398.36L1382.68 397.86L1383.68 397.35L1384.69 396.84L1385.69 396.32L1386.69 395.8L1387.69 395.28L1388.69 394.75L1389.7 394.22L1390.7 393.69L1391.7 393.16L1392.7 392.63L1393.7 392.09L1394.7 391.56L1395.71 391.03L1396.71 390.5L1397.71 389.97L1398.71 389.44L1399.71 388.92L1400.71 388.4L1401.72 387.88L1402.72 387.37L1403.72 386.86L1404.72 386.35L1405.72 385.85L1406.73 385.36L1407.73 384.87L1408.73 384.39L1409.73 383.92L1410.73 383.46L1411.73 383L1412.74 382.55L1413.74 382.11L1414.74 381.69L1415.3 381.45L1415.74 381.27L1416.74 380.86L1417.74 380.45L1418.75 380.06L1419.75 379.67L1420.75 379.28L1421.75 378.91L1422.75 378.54L1423.76 378.17L1424.76 377.81L1425.76 377.45L1426.76 377.09L1427.76 376.74L1428.76 376.39L1429.77 376.05L1430.77 375.7L1431.77 375.36L1432.77 375.02L1433.77 374.68L1434.78 374.34L1435.78 374L1436.78 373.66L1437.78 373.32L1438.78 372.98L1439.78 372.64L1440.79 372.29L1441.79 371.94L1442.79 371.59L1443.79 371.24L1444.79 370.88L1445.79 370.52L1446.8 370.16L1447.8 369.79L1448.8 369.41L1449.8 369.03L1450.4 368.8L1450.8 368.64L1451.81 368.25L1452.81 367.86L1453.81 367.46L1454.81 367.06L1455.81 366.66L1456.81 366.26L1457.82 365.85L1458.82 365.44L1459.82 365.03L1460.82 364.61L1461.82 364.2L1462.82 363.78L1463.83 363.36L1464.83 362.94L1465.83 362.52L1466.83 362.1L1467.83 361.67L1468.84 361.25L1469.84 360.82L1470.84 360.39L1471.84 359.97L1472.84 359.54L1473.84 359.11L1474.85 358.68L1475.5 358.4L1475.85 358.25L1476.85 357.81L1477.85 357.37L1478.85 356.92L1479.85 356.46L1480.86 355.99L1481.86 355.53L1482.86 355.05L1483.86 354.58L1484.86 354.1L1485.87 353.62L1486.87 353.14L1487.87 352.67L1488.87 352.19L1489.87 351.72L1490.87 351.25L1491.88 350.79L1492.88 350.33L1493.88 349.87L1494.88 349.43L1495.88 348.99L1496.88 348.56L1497.89 348.15L1498.89 347.74L1499.89 347.34L1500.89 346.96L1501.89 346.59L1502.9 346.24L1503 346.2L1503.9 345.89L1504.9 345.56L1505.9 345.23L1506.9 344.91L1507.9 344.6L1508.91 344.3L1509.91 344L1510.91 343.7L1511.91 343.41L1512.91 343.13L1513.92 342.85L1514.92 342.58L1515.92 342.3L1516.92 342.04L1517.92 341.77L1518.92 341.51L1519.93 341.25L1520.93 340.99L1521.93 340.73L1522.93 340.48L1523.93 340.22L1524.93 339.97L1525.94 339.71L1526.94 339.46L1527.94 339.2L1528.94 338.94L1529.94 338.68L1530.95 338.42L1531.95 338.16L1532.95 337.89L1533.95 337.62L1534.95 337.35L1535.95 337.07L1536.96 336.79L1537.96 336.5L1538.3 336.4L1538.96 336.21L1539.96 335.91L1540.96 335.62L1541.96 335.32L1542.97 335.02L1543.97 334.72L1544.97 334.41L1545.97 334.11L1546.97 333.8L1547.98 333.49L1548.98 333.18L1549.98 332.87L1550.98 332.55L1551.98 332.24L1552.98 331.92L1553.99 331.61L1554.99 331.29L1555.99 330.97L1556.99 330.65L1557.99 330.33L1558.99 330.01L1560 329.69L1561 329.37L1562 329.05L1563 328.73L1564 328.4L1565.01 328.08L1566.01 327.76L1567.01 327.44L1568.01 327.12L1569.01 326.8L1570.01 326.48L1571.02 326.16L1572.02 325.84L1573.02 325.52L1574.02 325.2L1575.02 324.89L1576.02 324.57L1577.03 324.26L1578.03 323.94L1579.03 323.63L1580.03 323.32L1581.03 323.01L1582.04 322.71L1583.04 322.4L1584.04 322.1L1585.04 321.79L1586.04 321.49L1587.04 321.2L1588.05 320.9L1589.05 320.61L1590.05 320.32L1591.05 320.03L1592.05 319.74L1593.06 319.46L1594.06 319.18L1595.06 318.9L1595.6 318.75L1596.06 318.62L1597.06 318.35L1598.06 318.07L1599.07 317.8L1600.07 317.53L1601.07 317.26L1602.07 316.99L1603.07 316.71L1604.07 316.45L1605.08 316.18L1606.08 315.91L1607.08 315.64L1608.08 315.38L1609.08 315.11L1610.09 314.85L1611.09 314.59L1612.09 314.33L1613.09 314.07L1614.09 313.81L1615.09 313.56L1616.1 313.3L1617.1 313.05L1618.1 312.8L1619.1 312.55L1620.1 312.3L1621.1 312.06L1622.11 311.82L1623.11 311.58L1624.11 311.34L1625.11 311.1L1626.11 310.87L1627.12 310.63L1628.12 310.4L1629.12 310.18L1630.12 309.95L1631.12 309.73L1632.12 309.51L1633.13 309.29L1634.13 309.08L1634.5 309L1635.13 308.87L1636.13 308.66L1637.13 308.45L1638.13 308.25L1639.14 308.04L1640.14 307.84L1641.14 307.65L1642.14 307.45L1643.14 307.25L1644.15 307.06L1645.15 306.87L1646.15 306.68L1647.15 306.49L1648.15 306.31L1649.15 306.12L1650.16 305.94L1651.16 305.75L1652.16 305.57L1653.16 305.39L1654.16 305.21L1655.16 305.04L1656.17 304.86L1657.17 304.68L1658.17 304.51L1659.17 304.33L1660.17 304.16L1661.18 303.99L1662.18 303.81L1663.18 303.64L1664.18 303.47L1665.18 303.3L1666.18 303.13L1667.19 302.96L1668.19 302.78L1669.19 302.61L1670.19 302.44L1671.19 302.27L1672.2 302.1L1672.2 302.1L1673.2 301.93L1674.2 301.76L1675.2 301.59L1676.2 301.42L1677.2 301.25L1678.21 301.08L1679.21 300.92L1680.21 300.75L1681.21 300.59L1682.21 300.42L1683.21 300.26L1684.22 300.09L1685.22 299.93L1686.22 299.77L1687.22 299.6L1688.22 299.44L1689.23 299.28L1690.23 299.12L1691.23 298.96L1692.23 298.8L1693.23 298.65L1694.23 298.49L1695.24 298.33L1696.24 298.18L1697.24 298.02L1698.24 297.86L1699.24 297.71L1700.24 297.56L1701.25 297.4L1702.25 297.25L1703.25 297.1" fill="none" stroke="#1f77b4" stroke-width="8" stroke-linecap="square" stroke-linejoin="round"/>
<path d="M1307.55 419.15L1324.55 436.15L1307.55 453.15L1290.55 436.15Z" fill="#1f77b4"/>
<path d="M1415.3 364.45L1432.3 381.45L1415.3 398.45L1398.3 381.45Z" fill="#1f77b4"/>
<path d="M1503 329.2L1520 346.2L1503 363.2L1486 346.2Z" fill="#1f77b4"/>
<path d="M1595.6 301.75L1612.6 318.75L1595.6 335.75L1578.6 318.75Z" fill="#1f77b4"/>
<path d="M1703.25 280.1L1720.25 297.1L1703.25 314.1L1686.25 297.1Z" fill="#1f77b4"/>
<path d="M1308.9 443.5L1309.9 442.78L1310.9 442.06L1311.91 441.34L1312.91 440.63L1313.91 439.92L1314.91 439.21L1315.91 438.51L1316.92 437.81L1317.92 437.12L1318.92 436.43L1319.92 435.74L1320.92 435.06L1321.93 434.37L1322.93 433.7L1323.93 433.02L1324.93 432.35L1325.93 431.69L1326.94 431.02L1327.94 430.36L1328.94 429.71L1329.94 429.06L1330.94 428.41L1331.95 427.76L1332.95 427.11L1333.95 426.47L1334.95 425.84L1335.95 425.2L1336.96 424.57L1337.96 423.94L1338.96 423.32L1339.96 422.7L1340.96 422.08L1341.97 421.46L1342.97 420.85L1343.97 420.24L1344.97 419.63L1345.98 419.03L1346.98 418.43L1347.98 417.83L1348.98 417.23L1349.98 416.64L1350.99 416.05L1351.99 415.46L1352.99 414.87L1353.99 414.29L1354.99 413.71L1356 413.13L1357 412.56L1358 411.99L1359 411.42L1360 410.85L1361.01 410.28L1362.01 409.72L1363.01 409.16L1364.01 408.6L1365.01 408.05L1365.1 408L1366.02 407.5L1367.02 406.96L1368.02 406.42L1369.02 405.9L1370.02 405.38L1371.03 404.87L1372.03 404.36L1373.03 403.86L1374.03 403.36L1375.03 402.86L1376.04 402.37L1377.04 401.87L1378.04 401.38L1379.04 400.88L1380.04 400.39L1381.05 399.89L1382.05 399.39L1383.05 398.88L1383.6 398.6L1384.05 398.37L1385.05 397.86L1386.06 397.35L1387.06 396.83L1388.06 396.32L1389.06 395.8L1390.06 395.29L1391.07 394.78L1392.07 394.26L1393.07 393.75L1394.07 393.23L1395.07 392.72L1396.08 392.21L1397.08 391.7L1398.08 391.18L1399.08 390.67L1400.08 390.16L1400.8 389.8L1401.09 389.65L1402.09 389.15L1403.09 388.64L1404.09 388.13L1405.09 387.62L1406.1 387.12L1407.1 386.61L1408.1 386.11L1409.1 385.6L1410.1 385.1L1411.11 384.6L1412.11 384.09L1413.11 383.59L1414.11 383.09L1415.1 382.6L1415.12 382.59L1416.12 382.09L1417.12 381.59L1418.12 381.09L1419.12 380.59L1420.13 380.09L1421.13 379.59L1422.13 379.1L1423.13 378.6L1424.13 378.1L1425.14 377.6L1426.14 377.1L1427.14 376.61L1428.14 376.11L1429.14 375.62L1430.15 375.12L1431.15 374.63L1432.15 374.14L1433.15 373.65L1434.15 373.16L1435.16 372.67L1436.16 372.19L1437.16 371.71L1438.16 371.22L1439.16 370.75L1440.1 370.3L1440.17 370.27L1441.17 369.79L1442.17 369.32L1443.17 368.85L1444.17 368.39L1445.18 367.92L1446.18 367.46L1447.18 367L1448.18 366.54L1449.18 366.08L1450.19 365.62L1451.19 365.17L1452.19 364.71L1453.19 364.25L1454.19 363.8L1455.2 363.34L1456.2 362.88L1457.2 362.42L1458.2 361.96L1459.2 361.5L1459.2 361.5L1460.21 361.03L1461.21 360.57L1462.21 360.1L1463.21 359.63L1464.21 359.16L1465.22 358.69L1466.22 358.21L1467.22 357.74L1468.22 357.27L1469.22 356.8L1470.23 356.33L1471.23 355.86L1472.23 355.4L1473.23 354.94L1474.23 354.48L1475.24 354.03L1476.24 353.58L1477.24 353.13L1478 352.8L1478.24 352.69L1479.24 352.26L1480.25 351.84L1481.25 351.42L1482.25 351L1483.25 350.59L1484.26 350.18L1485.26 349.77L1486.26 349.37L1487.26 348.96L1488.26 348.55L1489.27 348.14L1490.27 347.73L1491.27 347.31L1492.27 346.88L1493.27 346.45L1493.4 346.4L1494.28 346.02L1495.28 345.57L1496.28 345.12L1497.28 344.66L1498.28 344.19L1499.29 343.72L1500.29 343.25L1501.29 342.77L1502.29 342.29L1503.29 341.82L1504.3 341.34L1505.3 340.86L1506.3 340.38L1507.3 339.91L1508.3 339.44L1509.31 338.98L1510.31 338.52L1511.31 338.07L1512.31 337.63L1513.31 337.19L1514.32 336.77L1515.32 336.35L1516.2 336L1516.32 335.95L1517.32 335.56L1518.32 335.17L1519.33 334.79L1520.33 334.42L1521.33 334.05L1522.33 333.69L1523.33 333.34L1524.34 332.98L1525.34 332.63L1526.34 332.29L1527.34 331.94L1528.34 331.6L1529.35 331.26L1530.35 330.92L1531.35 330.58L1532.35 330.24L1533.35 329.9L1534.36 329.56L1535.36 329.22L1536 329L1536.36 328.88L1537.36 328.53L1538.36 328.18L1539.37 327.83L1540.37 327.48L1541.37 327.13L1542.37 326.79L1543.37 326.44L1544.38 326.09L1545.38 325.75L1546.38 325.4L1547.38 325.06L1548.38 324.73L1549.39 324.39L1550.39 324.06L1551.39 323.73L1552.39 323.41L1553.4 323.09L1554.4 322.77L1555.4 322.46L1555.6 322.4L1556.4 322.16L1557.4 321.86L1558.41 321.56L1559.41 321.27L1560.41 320.99L1561.41 320.7L1562.41 320.42L1563.42 320.14L1564.42 319.87L1565.42 319.59L1566.42 319.32L1567.42 319.05L1568.43 318.77L1569.43 318.5L1569.6 318.45L1570.43 318.22L1571.43 317.95L1572.43 317.68L1573.44 317.41L1574.44 317.14L1575.44 316.87L1576.44 316.6L1577.44 316.33L1578.45 316.07L1579.45 315.8L1580.45 315.53L1581.45 315.27L1582.45 315.01L1583.46 314.74L1584.46 314.48L1585.46 314.21L1586.46 313.95L1587.46 313.69L1588.47 313.42L1589.47 313.16L1590.47 312.9L1591.47 312.63L1592.47 312.37L1593.48 312.1L1594.48 311.84L1595.48 311.57L1596.48 311.3L1596.5 311.3L1597.48 311.04L1598.49 310.77L1599.49 310.5L1600.49 310.23L1601.49 309.96L1602.49 309.69L1603.5 309.41L1604.5 309.14L1605.5 308.87L1606.5 308.6L1607.5 308.33L1608.51 308.06L1609.51 307.79L1610.51 307.52L1611.51 307.26L1612.51 306.99L1613.52 306.73L1614.52 306.46L1615.52 306.2L1616.52 305.95L1616.7 305.9L1617.52 305.69L1618.53 305.43L1619.53 305.18L1620.53 304.93L1621.53 304.68L1622.54 304.43L1623.54 304.18L1624.54 303.93L1625.54 303.69L1626.54 303.44L1627.55 303.19L1628.55 302.95L1629.55 302.71L1630.55 302.46L1631.55 302.22L1632.56 301.98L1633.56 301.73L1634.56 301.49L1635.56 301.25L1636.56 301.01L1637 300.9L1637.57 300.76L1638.57 300.52L1639.57 300.28L1640.57 300.04L1641.57 299.8L1642.58 299.56L1643.58 299.32L1644.58 299.08L1645.58 298.84L1646.58 298.6L1647.59 298.36L1648.59 298.12L1649.59 297.88L1650.59 297.65L1651.59 297.41L1652.6 297.17L1653.6 296.94L1654.6 296.7" fill="none" stroke="#ff7f0e" stroke-width="8" stroke-linecap="butt" stroke-linejoin="round" stroke-dasharray="8.5 12.47" stroke-dashoffset="0.5"/>
<circle cx="1308.9" cy="443.5" r="12.1" fill="#ff7f0e"/>
<circle cx="1415.1" cy="382.6" r="12.1" fill="#ff7f0e"/>
<circle cx="1493.4" cy="346.4" r="12.1" fill="#ff7f0e"/>
<circle cx="1569.6" cy="318.45" r="12.1" fill="#ff7f0e"/>
<circle cx="1654.6" cy="296.7" r="12.1" fill="#ff7f0e"/>
<path d="M1316 447.5L1317 446.73L1318 445.98L1319.01 445.24L1320.01 444.52L1321.01 443.82L1322.01 443.13L1323.02 442.47L1324.02 441.82L1325.02 441.19L1326.02 440.59L1327.03 440.01L1328.03 439.46L1329.03 438.93L1330.03 438.43L1330.5 438.2L1331.03 437.95L1332.04 437.48L1333.04 437.03L1334.04 436.59L1335.04 436.16L1336.05 435.74L1337.05 435.34L1338.05 434.95L1339.05 434.58L1340.05 434.22L1341.06 433.87L1342.06 433.55L1343.06 433.24L1344.06 432.94L1345.07 432.66L1345.5 432.55L1346.07 432.4L1347.07 432.15L1348.07 431.9L1349.07 431.66L1350.08 431.42L1351.08 431.2L1352.08 430.98L1353.08 430.77L1354.09 430.57L1355.09 430.39L1356.09 430.21L1357.09 430.05L1358.1 429.9L1359.1 429.77L1360.1 429.65" fill="none" stroke="#2ca02c" stroke-width="8" stroke-linecap="butt" stroke-linejoin="round" stroke-dasharray="30 12.6" stroke-dashoffset="42.59"/>
<polygon points="1316,435.5 1318.69,443.79 1327.41,443.79 1320.36,448.92 1323.05,457.21 1316,452.08 1308.95,457.21 1311.64,448.92 1304.59,443.79 1313.31,443.79" fill="#2ca02c" stroke="#2ca02c" stroke-width="4" stroke-linejoin="bevel"/>
<polygon points="1330.5,426.2 1333.19,434.49 1341.91,434.49 1334.86,439.62 1337.55,447.91 1330.5,442.78 1323.45,447.91 1326.14,439.62 1319.09,434.49 1327.81,434.49" fill="#2ca02c" stroke="#2ca02c" stroke-width="4" stroke-linejoin="bevel"/>
<polygon points="1345.5,420.55 1348.19,428.84 1356.91,428.84 1349.86,433.97 1352.55,442.26 1345.5,437.13 1338.45,442.26 1341.14,433.97 1334.09,428.84 1342.81,428.84" fill="#2ca02c" stroke="#2ca02c" stroke-width="4" stroke-linejoin="bevel"/>
<polygon points="1360.1,417.65 1362.79,425.94 1371.51,425.94 1364.46,431.07 1367.15,439.36 1360.1,434.23 1353.05,439.36 1355.74,431.07 1348.69,425.94 1357.41,425.94" fill="#2ca02c" stroke="#2ca02c" stroke-width="4" stroke-linejoin="bevel"/>
<path d="M1299.9 493.05L1300.9 482.31L1301.9 475.61L1302.3 474.9L1302.9 474.9L1303.9 474.9L1304.5 474.9L1304.9 474.9L1305.9 474.9L1306.7 474.9L1306.9 474.9L1307.9 474.9L1308.9 474.9" fill="none" stroke="#d62728" stroke-width="8" stroke-linecap="square" stroke-linejoin="round"/>
<rect x="1287.85" y="481" width="24.1" height="24.1" fill="#d62728"/>
<rect x="1290.25" y="462.85" width="24.1" height="24.1" fill="#d62728"/>
<rect x="1292.45" y="462.85" width="24.1" height="24.1" fill="#d62728"/>
<rect x="1294.65" y="462.85" width="24.1" height="24.1" fill="#d62728"/>
<rect x="1296.85" y="462.85" width="24.1" height="24.1" fill="#d62728"/>
<path d="M1301.7 492.2L1302.7 492L1303.71 491.8L1304.71 491.61L1305.71 491.41L1306.72 491.22L1307.72 491.03L1308.72 490.83L1309.72 490.64L1310.73 490.46L1311.73 490.27L1312.73 490.08L1313.74 489.9L1314.74 489.71L1315.74 489.53L1316.75 489.35L1317.75 489.17L1318.75 488.99L1319.76 488.82L1320.76 488.64L1321.76 488.47L1322.76 488.3L1323.77 488.12L1324.77 487.96L1325.77 487.79L1326.3 487.7L1326.78 487.62L1327.78 487.45L1328.78 487.29L1329.79 487.12L1330.79 486.96L1331.79 486.79L1332.79 486.63L1333.8 486.46L1334.8 486.3L1335.8 486.14L1336.81 485.98L1337.81 485.82L1338.81 485.67L1339.82 485.51L1340.82 485.36L1341.82 485.21L1342.83 485.06L1343.83 484.92L1344.83 484.77L1345.83 484.63L1346.84 484.5L1347.84 484.36L1348.84 484.23L1349.85 484.11L1350.7 484L1350.85 483.98L1351.85 483.86L1352.86 483.75L1353.86 483.64L1354.86 483.53L1355.87 483.43L1356.87 483.33L1357.87 483.23L1358.87 483.13L1359.88 483.04L1360.88 482.95L1361.88 482.85L1362.89 482.76L1363.89 482.67L1364.89 482.58L1365.9 482.49L1366.9 482.39L1367.9 482.29L1368.91 482.2L1369.91 482.09L1370.91 481.99L1371.91 481.88L1372.92 481.77L1373.92 481.65L1374.92 481.53L1375.2 481.5L1375.93 481.41L1376.93 481.28L1377.93 481.15L1378.94 481.01L1379.94 480.87L1380.94 480.73L1381.94 480.59L1382.95 480.44L1383.95 480.29L1384.95 480.14L1385.96 479.98L1386.96 479.82L1387.96 479.66L1388.97 479.5L1389.97 479.33L1390.97 479.17L1391.98 479L1392.98 478.82L1393.98 478.65L1394.98 478.47L1395.99 478.29L1396.99 478.11L1397.99 477.92L1399 477.74L1400 477.55" fill="none" stroke="#9467bd" stroke-width="8" stroke-linecap="butt" stroke-linejoin="round" stroke-dasharray="51.1 12 8.7 12"/>
<path d="M1291.8 482.3L1311.6 502.1M1291.8 502.1L1311.6 482.3" stroke="#9467bd" stroke-width="4.1" fill="none"/>
<path d="M1316.4 477.8L1336.2 497.6M1316.4 497.6L1336.2 477.8" stroke="#9467bd" stroke-width="4.1" fill="none"/>
<path d="M1340.8 474.1L1360.6 493.9M1340.8 493.9L1360.6 474.1" stroke="#9467bd" stroke-width="4.1" fill="none"/>
<path d="M1365.3 471.6L1385.1 491.4M1365.3 491.4L1385.1 471.6" stroke="#9467bd" stroke-width="4.1" fill="none"/>
<path d="M1390.1 467.65L1409.9 487.45M1390.1 487.45L1409.9 467.65" stroke="#9467bd" stroke-width="4.1" fill="none"/>
<path d="M1299.5 506.8V521" stroke="#000" stroke-width="3.3"/>
<path d="M1453.7 506.8V521" stroke="#000" stroke-width="3.3"/>
<path d="M1608 506.8V521" stroke="#000" stroke-width="3.3"/>
<path d="M1279.8 506.8H1265.6" stroke="#000" stroke-width="3.3"/>
<path d="M1279.8 333.9H1265.6" stroke="#000" stroke-width="3.3"/>
<path d="M1279.8 161H1265.6" stroke="#000" stroke-width="3.3"/>
<rect x="1279.8" y="161" width="443.8" height="345.8" fill="none" stroke="#000" stroke-width="3.3"/>
<text transform="translate(1290.98 547.8) scale(0.9800 1)" font-family='"Liberation Sans", sans-serif' font-size="32">0</text>
<text transform="translate(1427.83 547.8) scale(0.9700 1)" font-family='"Liberation Sans", sans-serif' font-size="32">200</text>
<text transform="translate(1582.56 547.8) scale(0.9700 1)" font-family='"Liberation Sans", sans-serif' font-size="32">400</text>
<text transform="translate(1210.83 519.2) scale(0.9800 1)" font-family='"Liberation Sans", sans-serif' font-size="32">0.0</text>
<text transform="translate(1211.14 346.3) scale(0.9800 1)" font-family='"Liberation Sans", sans-serif' font-size="32">0.1</text>
<text transform="translate(1211.18 173.4) scale(0.9800 1)" font-family='"Liberation Sans", sans-serif' font-size="32">0.2</text>
<path d="M236.6 629.35L237.6 629L238.6 628.65L239.61 628.32L240.61 627.99L241.61 627.68L242.61 627.38L243.61 627.1L244.62 626.84L245.62 626.6L246.62 626.38L247.62 626.18L248.4 626.05L248.62 626.01L249.63 625.86L250.63 625.72L251.63 625.59L252.63 625.47L253.63 625.36L254.64 625.25L255.64 625.15L256.64 625.05L257.64 624.95L258.65 624.86L259.65 624.77L260.65 624.67L261.65 624.58L262.65 624.48L263.4 624.4L263.66 624.37L264.66 624.27L265.66 624.16L266.66 624.04L267.66 623.93L268.67 623.82L269.67 623.7L270.67 623.58L271.67 623.47L272.67 623.35L273.68 623.24L274.68 623.12L275.68 623.01L276.68 622.9L277.68 622.79L278.69 622.69L279.69 622.58L280.69 622.49L281.69 622.39L282.69 622.3L283.7 622.22L284.7 622.14L285.7 622.07L286.7 622L287.7 621.94L288.5 621.9L288.71 621.89L289.71 621.84L290.71 621.79L291.71 621.75L292.71 621.71L293.72 621.67L294.72 621.63L295.72 621.59L296.72 621.56L297.73 621.52L298.73 621.49L299.73 621.46L300.73 621.43L301.73 621.4L302.74 621.37L303.74 621.34L304.74 621.31L305.74 621.28L306.74 621.26L307.75 621.23L308.75 621.2L309.75 621.17L310.75 621.14L311.75 621.11L312.76 621.08L313.6 621.05L313.76 621.04L314.76 621.01L315.76 620.98L316.76 620.95L317.77 620.91L318.77 620.88L319.77 620.84L320.77 620.81L321.77 620.78L322.78 620.74L323.78 620.71L324.78 620.67L325.78 620.64L326.78 620.6L327.79 620.57L328.79 620.53L329.79 620.5L330.79 620.46L331.79 620.43L332.8 620.39L333.8 620.36L334.8 620.32L335.8 620.28L336.81 620.25L337.81 620.21L338.81 620.18L339.81 620.14L340.81 620.11L341.82 620.07L342.82 620.04L343.82 620L344.82 619.96L345.82 619.93L346.83 619.89L347.83 619.86L348.83 619.82L349.83 619.79L350.83 619.75L351.84 619.72L352.84 619.68L353.84 619.65L354.84 619.61L355.84 619.58L356.85 619.54L357.85 619.51L358.85 619.47L359.85 619.44L360.85 619.41L361.86 619.37L362.86 619.34L363.86 619.31L364.86 619.27L365.86 619.24L366.87 619.21L367.87 619.17L368.87 619.14L369.87 619.11L370.87 619.08L371.88 619.05L372.88 619.01L373.88 618.98L374.88 618.95L375.89 618.92L376.89 618.89L377.89 618.86L378.89 618.83L379.89 618.8L380.9 618.77L381.9 618.74L382.9 618.72L383.9 618.69L384.9 618.66L385.91 618.63L386.91 618.6L387.91 618.58L388.91 618.55L389.91 618.53L390.92 618.5L391.92 618.48L392.92 618.45L393.92 618.43L394.92 618.4L395.93 618.38L396.93 618.36L397.93 618.33L398.93 618.31L399.93 618.29L400.94 618.27L401.94 618.25L402.94 618.23L403.94 618.21L404.4 618.2L404.94 618.19L405.95 618.17L406.95 618.15L407.95 618.13L408.95 618.11L409.95 618.1L410.96 618.08L411.96 618.06L412.96 618.04L413.96 618.02L414.97 618.01L415.97 617.99L416.97 617.97L417.97 617.95L418.97 617.94L419.98 617.92L420.98 617.9L421.98 617.88L422.98 617.87L423.98 617.85L424.99 617.83L425.99 617.82L426.99 617.8L427.99 617.78L428.99 617.77L430 617.75L431 617.74L432 617.72L433 617.7L434 617.69L435.01 617.67L436.01 617.66L437.01 617.64L438.01 617.63L439.01 617.61L440.02 617.6L441.02 617.58L442.02 617.57L443.02 617.55L444.02 617.54L445.03 617.52L446.03 617.51L447.03 617.49L448.03 617.48L449.03 617.47L450.04 617.45L451.04 617.44L452.04 617.42L453.04 617.41L454.05 617.4L455.05 617.38L456.05 617.37L457.05 617.36L458.05 617.34L459.06 617.33L460.06 617.32L461.06 617.3L462.06 617.29L463.06 617.28L464.07 617.27L465.07 617.25L466.07 617.24L467.07 617.23L468.07 617.22L469.08 617.21L470.08 617.19L471.08 617.18L472.08 617.17L473.08 617.16L474.09 617.15L475.09 617.13L476.09 617.12L477.09 617.11L478.09 617.1L479.1 617.09L480.1 617.08L481.1 617.07L482.1 617.06L483.1 617.04L484.11 617.03L485.11 617.02L486.11 617.01L487.11 617L488.11 616.99L489.12 616.98L490.12 616.97L491.12 616.96L492.12 616.95L493.13 616.94L494.13 616.93L495.13 616.92L496.13 616.91L497.13 616.9L498.14 616.89L499.14 616.88L500.14 616.87L501.14 616.86L502.14 616.85L503.15 616.84L504.15 616.83L505.15 616.82L506.15 616.81L507.15 616.81L507.75 616.8L508.16 616.8L509.16 616.79L510.16 616.78L511.16 616.77L512.16 616.76L513.17 616.75L514.17 616.74L515.17 616.73L516.17 616.72L517.17 616.72L518.18 616.71L519.18 616.7L520.18 616.69L521.18 616.68L522.18 616.67L523.19 616.66L524.19 616.65L525.19 616.65L526.19 616.64L527.19 616.63L528.2 616.62L529.2 616.61L530.2 616.6L531.2 616.59L532.21 616.59L533.21 616.58L534.21 616.57L535.21 616.56L536.21 616.55L537.22 616.54L538.22 616.54L539.22 616.53L540.22 616.52L541.22 616.51L542.23 616.5L543.23 616.49L544.23 616.49L545.23 616.48L546.23 616.47L547.24 616.46L548.24 616.45L549.24 616.45L550.24 616.44L551.24 616.43L552.25 616.42L553.25 616.42L554.25 616.41L555.25 616.4L556.25 616.39L557.26 616.38L558.26 616.38L559.26 616.37L560.26 616.36L561.26 616.36L562.27 616.35L563.27 616.34L564.27 616.33L565.27 616.33L566.27 616.32L567.28 616.31L568.28 616.3L569.28 616.3L570.28 616.29L571.29 616.28L572.29 616.28L573.29 616.27L574.29 616.26L575.29 616.26L576.3 616.25L577.3 616.24L578.3 616.24L579.3 616.23L580.3 616.22L581.31 616.22L582.31 616.21L583.31 616.21L584.31 616.2L585.31 616.19L586.32 616.19L587.32 616.18L588.32 616.18L589.32 616.17L590.32 616.16L591.33 616.16L592.33 616.15L593.33 616.15L594.33 616.14L595.33 616.14L596.34 616.13L597.34 616.13L598.34 616.12L599.34 616.12L600.34 616.11L601.35 616.11L602.35 616.1L603.35 616.1L604.35 616.09L605.35 616.09L606.36 616.08L607.36 616.08L608.36 616.07L609.36 616.07L610.37 616.06L611.37 616.06L612.37 616.05L613.37 616.05L614.37 616.05L615.38 616.04L616.38 616.04L617.38 616.03L618.38 616.03L619.38 616.03L620.39 616.02L621.39 616.02L622.39 616.02L623.39 616.01L624.39 616.01L625.4 616.01L626.4 616L627.4 616" fill="none" stroke="#1f77b4" stroke-width="8" stroke-linecap="square" stroke-linejoin="round"/>
<path d="M236.6 612.35L253.6 629.35L236.6 646.35L219.6 629.35Z" fill="#1f77b4"/>
<path d="M313.6 604.05L330.6 621.05L313.6 638.05L296.6 621.05Z" fill="#1f77b4"/>
<path d="M404.4 601.2L421.4 618.2L404.4 635.2L387.4 618.2Z" fill="#1f77b4"/>
<path d="M507.75 599.8L524.75 616.8L507.75 633.8L490.75 616.8Z" fill="#1f77b4"/>
<path d="M627.4 599L644.4 616L627.4 633L610.4 616Z" fill="#1f77b4"/>
<path d="M237.15 632.2L238.15 631.92L239.15 631.63L240.16 631.36L241.16 631.09L242.16 630.82L243.16 630.55L244.17 630.29L245.17 630.04L246.17 629.79L247.17 629.55L248.17 629.31L249.18 629.07L250.18 628.84L251.18 628.62L252.18 628.41L253.18 628.19L254.19 627.99L255.19 627.79L256.19 627.6L257.19 627.42L258.2 627.24L259.2 627.07L260.2 626.9L261.2 626.75L261.5 626.7L262.2 626.6L263.21 626.45L264.21 626.31L265.21 626.17L266.21 626.04L267.21 625.91L268.22 625.79L269.22 625.67L270.22 625.55L271.22 625.43L272.23 625.32L273.23 625.21L274.23 625.11L275.23 625L276.23 624.9L277.24 624.8L278.24 624.7L279.24 624.61L280.24 624.51L281.24 624.42L282.25 624.32L282.5 624.3L283.25 624.23L284.25 624.14L285.25 624.05L286.26 623.96L287.26 623.87L288.26 623.78L289.26 623.69L290.26 623.6L291.27 623.51L292.27 623.43L293.27 623.35L294.27 623.27L295.27 623.19L296.28 623.12L297.28 623.05L298.28 622.98L299.28 622.92L300.29 622.86L301.29 622.8L302.29 622.74L303.2 622.7L303.29 622.7L304.29 622.65L305.3 622.61L306.3 622.57L307.3 622.53L308.3 622.5L309.3 622.46L310.31 622.43L311.31 622.4L312.31 622.37L313.31 622.34L314.32 622.31L315.32 622.28L316.32 622.25L317.32 622.22L318.32 622.19L319.33 622.16L320.33 622.12L321.33 622.08L322.1 622.05L322.33 622.04L323.33 622L324.34 621.95L325.34 621.9L326.34 621.85L327.34 621.79L328.35 621.73L329.35 621.68L330.35 621.62L331.35 621.56L332.35 621.49L333.36 621.43L334.36 621.37L335.36 621.31L336.36 621.25L337.36 621.19L338.37 621.14L339.37 621.08L340.37 621.03L341.37 620.97L342.38 620.92L343.38 620.88L344.38 620.84L345.3 620.8L345.38 620.8L346.38 620.76L347.39 620.73L348.39 620.69L349.39 620.66L350.39 620.63L351.39 620.6L352.4 620.57L353.4 620.54L354.4 620.52L355.4 620.49L356.41 620.46L357.41 620.44L358.41 620.41L359.41 620.39L360.41 620.36L361.42 620.33L362.42 620.31L363.42 620.28L364.42 620.25L365.42 620.22L366.1 620.2L366.43 620.19L367.43 620.16L368.43 620.12L369.43 620.09L370.44 620.06L371.44 620.02L372.44 619.98L373.44 619.95L374.44 619.91L375.45 619.87L376.45 619.84L377.45 619.8L378.45 619.76L379.45 619.73L380.46 619.7L381.46 619.66L382.46 619.63L383.46 619.6L384.47 619.57L385.47 619.54L386.47 619.52L387.1 619.5L387.47 619.49L388.47 619.47L389.48 619.45L390.48 619.43L391.48 619.41L392.48 619.39L393.48 619.37L394.49 619.35L395.49 619.33L396.49 619.32L397.49 619.3L398.5 619.28L399.5 619.27L400.5 619.25L401.5 619.23L402.5 619.22L403.51 619.2L404.51 619.19L405.51 619.17L406.51 619.16L407.51 619.14L408.52 619.12L409.52 619.1L410.52 619.09L411.52 619.07L412.53 619.05L413.53 619.03L414.53 619.01L414.8 619L415.53 618.98L416.53 618.96L417.54 618.94L418.54 618.91L419.54 618.88L420.54 618.86L421.54 618.83L422.55 618.8L423.55 618.77L424.55 618.74L425.55 618.71L426.56 618.68L427.56 618.65L428.56 618.62L429.56 618.59L430.56 618.55L431.57 618.52L432.57 618.49L433.57 618.46L434.57 618.43L435.57 618.39L436.58 618.36L437.58 618.33L438.58 618.3L439.58 618.27L440.59 618.24L441.59 618.21L442.59 618.18L443.59 618.16L444.59 618.13L445.6 618.1L446.6 618.08L447.6 618.05L448.6 618.03L449.61 618.01L450.1 618L450.61 617.99L451.61 617.97L452.61 617.95L453.61 617.93L454.62 617.91L455.62 617.89L456.62 617.88L457.62 617.86L458.62 617.84L459.63 617.82L460.63 617.81L461.63 617.79L462.63 617.78L463.64 617.76L464.64 617.75L465.64 617.73L466.64 617.72L467.64 617.7L468.65 617.69L469.65 617.67L470.65 617.66L471.2 617.65L471.65 617.64L472.65 617.63L473.66 617.62L474.66 617.6L475.66 617.59L476.66 617.57L477.67 617.56L478.67 617.54L479.67 617.53L480.67 617.52L481.67 617.5L482.68 617.49L483.68 617.48L484.68 617.47L485.68 617.45L486.68 617.44L487.69 617.43L488.69 617.42L489.69 617.42L490.69 617.41L491.7 617.4L491.9 617.4L492.7 617.4L493.7 617.39L494.7 617.39L495.7 617.38L496.71 617.38L497.71 617.37L498.71 617.37L499.71 617.37L500.71 617.36L501.72 617.36L502.72 617.36L503.72 617.36L504.72 617.35L505.73 617.35L506.73 617.35L507.73 617.35L508.73 617.34L509.73 617.34L510.74 617.33L511.74 617.33L512.74 617.33L513.74 617.32L514.74 617.32L515.75 617.31L516.75 617.3L517.1 617.3L517.75 617.29L518.75 617.28L519.76 617.26L520.76 617.23L521.76 617.2L522.76 617.16L523.76 617.13L524.77 617.09L525.77 617.05L526.77 617.01L527.77 616.97L528.77 616.93L529.78 616.9L530.78 616.87L531.78 616.84L532.78 616.82L533.79 616.8L533.9 616.8L534.79 616.79L535.79 616.78L536.79 616.77L537.79 616.75L538.8 616.74L539.8 616.73L540.8 616.72L541.8 616.71L542.8 616.7L543.81 616.69L544.81 616.68L545.81 616.67L546.81 616.66L547.82 616.65L548.82 616.64L549.82 616.63L550.82 616.62L551.82 616.61L552.83 616.6L553.83 616.59L554.83 616.58L555.83 616.57L556.83 616.56L557.84 616.55L558.84 616.54L559.84 616.53L560.84 616.52L561.85 616.51L562.85 616.51L563.85 616.5L564.85 616.49L565.85 616.48L566.86 616.47L567.86 616.46L568.86 616.46L569.86 616.45L570.86 616.44L571.87 616.43L572.87 616.43L573.87 616.42L574.87 616.41L575.88 616.4L576.88 616.4L577.88 616.39L578.88 616.38L579.88 616.38L580.89 616.37L581.89 616.36L582.89 616.36L583.89 616.35L584.89 616.35L585.9 616.34L586.9 616.33L587.9 616.33L588.9 616.32L589.91 616.32L590.91 616.31L591.91 616.31L592.91 616.3L593.91 616.3L594.92 616.29L595.92 616.29L596.92 616.28L597.92 616.28L598.92 616.27L599.93 616.27L600.93 616.27L601.93 616.26L602.93 616.26L603.94 616.26L604.94 616.25L605.94 616.25L606.94 616.24L607.94 616.24L608.95 616.24L609.95 616.24L610.95 616.23L611.95 616.23L612.95 616.23L613.96 616.22L614.96 616.22L615.96 616.22L616.96 616.22L617.97 616.22L618.97 616.21L619.97 616.21L620.97 616.21L621.97 616.21L622.98 616.21L623.98 616.21L624.98 616.2L625.98 616.2L626.98 616.2L627.99 616.2L628.99 616.2L629.99 616.2L630.99 616.2L632 616.2L633 616.2L634 616.2" fill="none" stroke="#ff7f0e" stroke-width="8" stroke-linecap="butt" stroke-linejoin="round" stroke-dasharray="8.5 12.47" stroke-dashoffset="0.5"/>
<circle cx="237.15" cy="632.2" r="12.1" fill="#ff7f0e"/>
<circle cx="322.1" cy="622.05" r="12.1" fill="#ff7f0e"/>
<circle cx="414.8" cy="619" r="12.1" fill="#ff7f0e"/>
<circle cx="517.1" cy="617.3" r="12.1" fill="#ff7f0e"/>
<circle cx="634" cy="616.2" r="12.1" fill="#ff7f0e"/>
<path d="M230.75 929.75L231.7 918.4L231.77 917.97L232.79 912.92L233.8 910.1L233.81 910.09L234.83 908.37L235.84 906.93L236.86 905.72L237.88 904.71L238.9 903.85L239.92 903.1L240.94 902.42L241.9 901.8L241.96 901.76L242.98 901.14L244 900.55L245.01 900L246.03 899.49L247.05 899.02L248.07 898.57L249.09 898.15L250.11 897.75L251.13 897.38L252.15 897.02L253.17 896.67L253.7 896.5L254.18 896.34L255.2 896.02L256.22 895.72L257.24 895.42L258.26 895.14L259.28 894.87L260.3 894.61L261.32 894.37L262.34 894.14L263.35 893.93L264.37 893.73L265.1 893.6L265.39 893.55L266.41 893.37L267.43 893.2L268.45 893.04L269.47 892.88L270.49 892.73L271.51 892.59L272.52 892.46L273.54 892.34L274.56 892.23L275.58 892.13L276.6 892.05" fill="none" stroke="#2ca02c" stroke-width="8" stroke-linecap="butt" stroke-linejoin="round" stroke-dasharray="30 12.6"/>
<polygon points="230.75,917.75 233.44,926.04 242.16,926.04 235.11,931.17 237.8,939.46 230.75,934.33 223.7,939.46 226.39,931.17 219.34,926.04 228.06,926.04" fill="#2ca02c" stroke="#2ca02c" stroke-width="4" stroke-linejoin="bevel"/>
<polygon points="241.9,889.8 244.59,898.09 253.31,898.09 246.26,903.22 248.95,911.51 241.9,906.38 234.85,911.51 237.54,903.22 230.49,898.09 239.21,898.09" fill="#2ca02c" stroke="#2ca02c" stroke-width="4" stroke-linejoin="bevel"/>
<polygon points="253.7,884.5 256.39,892.79 265.11,892.79 258.06,897.92 260.75,906.21 253.7,901.08 246.65,906.21 249.34,897.92 242.29,892.79 251.01,892.79" fill="#2ca02c" stroke="#2ca02c" stroke-width="4" stroke-linejoin="bevel"/>
<polygon points="265.1,881.6 267.79,889.89 276.51,889.89 269.46,895.02 272.15,903.31 265.1,898.18 258.05,903.31 260.74,895.02 253.69,889.89 262.41,889.89" fill="#2ca02c" stroke="#2ca02c" stroke-width="4" stroke-linejoin="bevel"/>
<polygon points="276.6,880.05 279.29,888.34 288.01,888.34 280.96,893.47 283.65,901.76 276.6,896.63 269.55,901.76 272.24,893.47 265.19,888.34 273.91,888.34" fill="#2ca02c" stroke="#2ca02c" stroke-width="4" stroke-linejoin="bevel"/>
<path d="M232.05 717.9L233.06 707.87L233.3 706L234.07 700.88L235.07 695.78L235.3 695L236.08 692.83L237.09 690.63L238.1 689.01L238.5 688.5L239.1 687.81L240.11 686.78L241.12 685.91L242.13 685.2L243.14 684.65L243.5 684.5L244.14 684.26L245.15 683.9L246.16 683.59L247.17 683.33L248.17 683.11L249.18 682.95L250.1 682.85L250.19 682.84L251.2 682.77L252.2 682.7L253.21 682.64L254.22 682.58L255.23 682.53L256.24 682.49L257.24 682.45L258.25 682.41L259.26 682.38L260.27 682.35L261.27 682.32L262.28 682.29L263.29 682.26L264.3 682.23L265.31 682.19L266.31 682.16L267.32 682.12L267.9 682.1L268.33 682.08L269.34 682.04L270.34 682L271.35 681.96L272.36 681.92L273.37 681.88L274.38 681.84L275.38 681.8L276.39 681.76L277.4 681.73L278.41 681.69L279.41 681.65L280.42 681.61L281.43 681.57L282.44 681.53L283.45 681.49L284.45 681.45L285.46 681.41L285.8 681.4L286.47 681.37L287.48 681.33L288.48 681.29L289.49 681.26L290.5 681.22L291.51 681.18L292.51 681.14L293.52 681.1L294.53 681.06L295.54 681.02L296.55 680.98L297.55 680.94L298.56 680.9L299.57 680.86L300.58 680.82L301.58 680.78L302.59 680.74L303.6 680.7" fill="none" stroke="#d62728" stroke-width="8" stroke-linecap="square" stroke-linejoin="round"/>
<rect x="220" y="705.85" width="24.1" height="24.1" fill="#d62728"/>
<rect x="238.05" y="670.8" width="24.1" height="24.1" fill="#d62728"/>
<rect x="255.85" y="670.05" width="24.1" height="24.1" fill="#d62728"/>
<rect x="273.75" y="669.35" width="24.1" height="24.1" fill="#d62728"/>
<rect x="291.55" y="668.65" width="24.1" height="24.1" fill="#d62728"/>
<path d="M232.3 718.4L236.5 714.7L254 713.7L266 712.7L272.5 712.2L275.3 708L285 707.3L296.6 706.5L308 706L318.7 705.2" fill="none" stroke="#9467bd" stroke-width="8" stroke-linecap="butt" stroke-linejoin="round" stroke-dasharray="51.1 12 8.7 12"/>
<path d="M222.4 708.5L242.2 728.3M222.4 728.3L242.2 708.5" stroke="#9467bd" stroke-width="4.1" fill="none"/>
<path d="M244.1 702.4L263.9 722.2M244.1 722.2L263.9 702.4" stroke="#9467bd" stroke-width="4.1" fill="none"/>
<path d="M265.4 697.4L285.2 717.2M265.4 717.2L285.2 697.4" stroke="#9467bd" stroke-width="4.1" fill="none"/>
<path d="M286.7 696.6L306.5 716.4M286.7 716.4L306.5 696.6" stroke="#9467bd" stroke-width="4.1" fill="none"/>
<path d="M308.8 695.3L328.6 715.1M308.8 715.1L328.6 695.3" stroke="#9467bd" stroke-width="4.1" fill="none"/>
<path d="M230.75 945.5V959.7" stroke="#000" stroke-width="3.3"/>
<path d="M349 945.5V959.7" stroke="#000" stroke-width="3.3"/>
<path d="M467.5 945.5V959.7" stroke="#000" stroke-width="3.3"/>
<path d="M585.7 945.5V959.7" stroke="#000" stroke-width="3.3"/>
<path d="M210.9 942.6H196.7" stroke="#000" stroke-width="3.3"/>
<path d="M210.9 771.3H196.7" stroke="#000" stroke-width="3.3"/>
<path d="M210.9 599.95H196.7" stroke="#000" stroke-width="3.3"/>
<rect x="210.9" y="599.95" width="443.4" height="345.55" fill="none" stroke="#000" stroke-width="3.3"/>
<text transform="translate(222.23 986.5) scale(0.9800 1)" font-family='"Liberation Sans", sans-serif' font-size="32">0</text>
<text transform="translate(323.13 986.5) scale(0.9700 1)" font-family='"Liberation Sans", sans-serif' font-size="32">200</text>
<text transform="translate(442.06 986.5) scale(0.9700 1)" font-family='"Liberation Sans", sans-serif' font-size="32">400</text>
<text transform="translate(559.82 986.5) scale(0.9700 1)" font-family='"Liberation Sans", sans-serif' font-size="32">600</text>
<text transform="translate(141.93 955) scale(0.9800 1)" font-family='"Liberation Sans", sans-serif' font-size="32">0.0</text>
<text transform="translate(142.02 783.7) scale(0.9800 1)" font-family='"Liberation Sans", sans-serif' font-size="32">0.5</text>
<text transform="translate(141.93 612.35) scale(0.9800 1)" font-family='"Liberation Sans", sans-serif' font-size="32">1.0</text>
<path d="M781.7 631.1L782.7 630.82L783.7 630.54L784.7 630.26L785.7 629.98L786.7 629.71L787.7 629.43L788.71 629.17L789.71 628.9L790.71 628.63L791.71 628.37L792.71 628.12L793.71 627.86L794.71 627.61L795.71 627.37L796.71 627.13L797.71 626.89L798.71 626.65L799.71 626.43L800.71 626.2L801.72 625.98L802.72 625.77L803.72 625.56L804.72 625.36L805.72 625.17L806.72 624.98L807.72 624.79L808.72 624.61L809.72 624.44L810.72 624.28L811.72 624.12L812.72 623.97L813.72 623.83L814.73 623.7L815.73 623.57L816.73 623.45L817.73 623.34L818.1 623.3L818.73 623.24L819.73 623.13L820.73 623.04L821.73 622.94L822.73 622.84L823.73 622.75L824.73 622.66L825.73 622.57L826.73 622.49L827.74 622.4L828.74 622.32L829.74 622.24L830.74 622.16L831.74 622.08L832.74 622.01L833.74 621.94L834.74 621.86L835.74 621.79L836.74 621.72L837.74 621.66L838.74 621.59L839.74 621.53L840.75 621.47L841.75 621.4L842.75 621.35L843.75 621.29L844.75 621.23L845.75 621.17L846.75 621.12L847.75 621.07L848.75 621.01L849.75 620.96L850.75 620.91L851.75 620.86L852.75 620.81L853.76 620.77L854.76 620.72L855.76 620.67L856.76 620.63L857.76 620.58L858.76 620.54L859.7 620.5L859.76 620.5L860.76 620.46L861.76 620.41L862.76 620.37L863.76 620.33L864.76 620.29L865.76 620.25L866.77 620.21L867.77 620.17L868.77 620.13L869.77 620.09L870.77 620.05L871.77 620.02L872.77 619.98L873.77 619.94L874.77 619.91L875.77 619.87L876.77 619.83L877.77 619.8L878.77 619.76L879.78 619.73L880.78 619.69L881.78 619.66L882.78 619.62L883.78 619.59L884.78 619.56L885.78 619.52L886.78 619.49L887.78 619.46L888.78 619.43L889.78 619.4L890.78 619.36L891.78 619.33L892.79 619.3L893.79 619.27L894.79 619.24L895.79 619.21L896.79 619.18L897.79 619.15L898.79 619.12L899.79 619.1L900.79 619.07L901.79 619.04L902.79 619.01L903.79 618.98L904.79 618.95L905.8 618.93L906.8 618.9L907.8 618.87L908.8 618.85L909.8 618.82L910.8 618.79L911.8 618.77L912.8 618.74L913.8 618.72L914.8 618.69L915.8 618.66L916.8 618.64L917.8 618.61L918.81 618.59L919.81 618.57L920.81 618.54L921.81 618.52L922.81 618.49L923.81 618.47L924.81 618.44L925.81 618.42L926.81 618.4L927.81 618.37L928.81 618.35L929.81 618.33L930.81 618.3L931.82 618.28L932.82 618.26L933.82 618.24L934.82 618.21L935.82 618.19L936.82 618.17L937.82 618.15L938.82 618.12L939.82 618.1L940.82 618.08L941.82 618.06L942.82 618.04L943.82 618.01L944.83 617.99L945.83 617.97L946.83 617.95L947.83 617.93L948.83 617.91L949.83 617.88L950.83 617.86L951.4 617.85L951.83 617.84L952.83 617.82L953.83 617.8L954.83 617.78L955.83 617.76L956.83 617.73L957.84 617.71L958.84 617.69L959.84 617.67L960.84 617.65L961.84 617.63L962.84 617.61L963.84 617.59L964.84 617.57L965.84 617.55L966.84 617.53L967.84 617.51L968.84 617.49L969.84 617.46L970.85 617.44L971.85 617.42L972.85 617.4L973.85 617.38L974.85 617.36L975.85 617.34L976.85 617.33L977.85 617.31L978.85 617.29L979.85 617.27L980.85 617.25L981.85 617.23L982.85 617.21L983.85 617.19L984.86 617.17L985.86 617.15L986.86 617.13L987.86 617.11L988.86 617.1L989.86 617.08L990.86 617.06L991.86 617.04L992.86 617.02L993.86 617L994.86 616.99L995.86 616.97L996.86 616.95L997.87 616.93L998.87 616.91L999.87 616.9L1000.87 616.88L1001.87 616.86L1002.87 616.84L1003.87 616.83L1004.87 616.81L1005.87 616.79L1006.87 616.78L1007.87 616.76L1008.87 616.74L1009.87 616.72L1010.88 616.71L1011.88 616.69L1012.88 616.68L1013.88 616.66L1014.88 616.64L1015.88 616.63L1016.88 616.61L1017.88 616.6L1018.88 616.58L1019.88 616.56L1020.88 616.55L1021.88 616.53L1022.88 616.52L1023.89 616.5L1024.89 616.49L1025.89 616.47L1026.89 616.46L1027.89 616.44L1028.89 616.43L1029.89 616.41L1030.89 616.4L1031.89 616.39L1032.89 616.37L1033.89 616.36L1034.89 616.34L1035.89 616.33L1036.9 616.32L1037.9 616.3L1038.9 616.29L1039.9 616.28L1040.9 616.26L1041.9 616.25L1042.9 616.24L1043.9 616.22L1044.9 616.21L1045.9 616.2L1046.9 616.19L1047.9 616.17L1048.9 616.16L1049.91 616.15L1050.91 616.14L1051.91 616.13L1052.91 616.12L1053.91 616.1L1054.25 616.1L1054.91 616.09L1055.91 616.08L1056.91 616.07L1057.91 616.06L1058.91 616.05L1059.91 616.04L1060.91 616.02L1061.91 616.01L1062.92 616L1063.92 615.99L1064.92 615.98L1065.92 615.97L1066.92 615.96L1067.92 615.95L1068.92 615.94L1069.92 615.93L1070.92 615.91L1071.92 615.9L1072.92 615.89L1073.92 615.88L1074.92 615.87L1075.93 615.86L1076.93 615.85L1077.93 615.84L1078.93 615.83L1079.93 615.82L1080.93 615.81L1081.93 615.8L1082.93 615.79L1083.93 615.78L1084.93 615.76L1085.93 615.75L1086.93 615.74L1087.93 615.73L1088.94 615.72L1089.94 615.71L1090.94 615.7L1091.94 615.69L1092.94 615.68L1093.94 615.67L1094.94 615.66L1095.94 615.65L1096.94 615.64L1097.94 615.63L1098.94 615.62L1099.94 615.61L1100.94 615.6L1101.95 615.6L1102.95 615.59L1103.95 615.58L1104.95 615.57L1105.95 615.56L1106.95 615.55L1107.95 615.54L1108.95 615.53L1109.95 615.52L1110.95 615.51L1111.95 615.5L1112.95 615.49L1113.95 615.49L1114.96 615.48L1115.96 615.47L1116.96 615.46L1117.96 615.45L1118.96 615.44L1119.96 615.43L1120.96 615.42L1121.96 615.42L1122.96 615.41L1123.96 615.4L1124.96 615.39L1125.96 615.38L1126.96 615.38L1127.97 615.37L1128.97 615.36L1129.97 615.35L1130.97 615.34L1131.97 615.34L1132.97 615.33L1133.97 615.32L1134.97 615.32L1135.97 615.31L1136.97 615.3L1137.97 615.29L1138.97 615.29L1139.97 615.28L1140.98 615.27L1141.98 615.27L1142.98 615.26L1143.98 615.25L1144.98 615.25L1145.98 615.24L1146.98 615.23L1147.98 615.23L1148.98 615.22L1149.98 615.21L1150.98 615.21L1151.98 615.2L1152.98 615.2L1153.99 615.19L1154.99 615.19L1155.99 615.18L1156.99 615.17L1157.99 615.17L1158.99 615.16L1159.99 615.16L1160.99 615.15L1161.99 615.15L1162.99 615.14L1163.99 615.14L1164.99 615.13L1165.99 615.13L1167 615.12L1168 615.12L1169 615.12L1170 615.11L1171 615.11L1172 615.1L1173 615.1" fill="none" stroke="#1f77b4" stroke-width="8" stroke-linecap="square" stroke-linejoin="round"/>
<path d="M781.7 614.1L798.7 631.1L781.7 648.1L764.7 631.1Z" fill="#1f77b4"/>
<path d="M859.7 603.5L876.7 620.5L859.7 637.5L842.7 620.5Z" fill="#1f77b4"/>
<path d="M951.4 600.85L968.4 617.85L951.4 634.85L934.4 617.85Z" fill="#1f77b4"/>
<path d="M1054.25 599.1L1071.25 616.1L1054.25 633.1L1037.25 616.1Z" fill="#1f77b4"/>
<path d="M1173 598.1L1190 615.1L1173 632.1L1156 615.1Z" fill="#1f77b4"/>
<path d="M782.7 636.3L783.7 635.9L784.7 635.51L785.7 635.13L786.7 634.75L787.7 634.37L788.7 634L789.7 633.64L790.7 633.29L791.7 632.94L792.7 632.6L793.7 632.26L794.7 631.93L795.7 631.61L796.7 631.3L797.7 631L798.7 630.7L799.7 630.42L800.7 630.14L801.7 629.87L802.7 629.61L803.7 629.35L804.7 629.11L805.7 628.88L806.5 628.7L806.7 628.66L807.7 628.44L808.7 628.23L809.7 628.02L810.7 627.82L811.7 627.63L812.7 627.44L813.7 627.26L814.7 627.08L815.7 626.9L816.7 626.73L817.7 626.57L818.7 626.4L819.7 626.25L820.7 626.09L821.7 625.94L822.7 625.8L823.7 625.66L824.7 625.52L825.7 625.38L826.7 625.25L827.1 625.2L827.7 625.12L828.7 625L829.7 624.87L830.7 624.74L831.7 624.62L832.7 624.5L833.7 624.38L834.7 624.26L835.7 624.15L836.7 624.04L837.7 623.93L838.7 623.82L839.7 623.72L840.7 623.62L841.7 623.53L842.7 623.44L843.7 623.35L844.7 623.27L845.7 623.2L846.7 623.13L847.7 623.06L847.9 623.05L848.7 623L849.7 622.95L850.7 622.9L851.7 622.85L852.7 622.8L853.7 622.76L854.7 622.72L855.7 622.68L856.7 622.64L857.7 622.6L858.7 622.56L859.7 622.53L860.7 622.49L861.7 622.45L862.7 622.41L863.7 622.37L864.7 622.33L865.7 622.29L866.7 622.24L867.6 622.2L867.7 622.2L868.7 622.14L869.7 622.09L870.7 622.03L871.7 621.97L872.7 621.91L873.7 621.85L874.7 621.78L875.7 621.72L876.7 621.65L877.7 621.59L878.7 621.52L879.7 621.46L880.7 621.39L881.7 621.33L882.7 621.27L883.7 621.21L884.7 621.15L885.7 621.1L886.7 621.04L887.7 620.99L888.7 620.95L889.7 620.91L889.9 620.9L890.7 620.87L891.7 620.83L892.7 620.8L893.7 620.77L894.7 620.73L895.7 620.7L896.7 620.67L897.7 620.65L898.7 620.62L899.7 620.59L900.7 620.57L901.7 620.54L902.7 620.51L903.7 620.49L904.7 620.46L905.7 620.44L906.7 620.41L907.7 620.39L908.7 620.36L909.7 620.33L910.7 620.3L910.8 620.3L911.7 620.27L912.7 620.25L913.7 620.22L914.7 620.19L915.7 620.16L916.7 620.13L917.7 620.1L918.7 620.07L919.7 620.04L920.7 620.01L921.7 619.98L922.7 619.95L923.7 619.92L924.7 619.9L925.7 619.87L926.7 619.84L927.7 619.81L928.7 619.78L929.7 619.76L930.7 619.73L931.7 619.7L931.8 619.7L932.7 619.68L933.7 619.65L934.7 619.62L935.7 619.6L936.7 619.57L937.7 619.55L938.7 619.52L939.7 619.5L940.7 619.47L941.7 619.45L942.7 619.42L943.7 619.4L944.7 619.37L945.7 619.35L946.7 619.32L947.7 619.3L948.7 619.27L949.7 619.25L950.7 619.23L951.7 619.2L952.7 619.18L953.7 619.15L954.7 619.13L955.7 619.11L956.7 619.09L957.7 619.06L958.7 619.04L959.7 619.02L960.5 619L960.7 619L961.7 618.97L962.7 618.95L963.7 618.93L964.7 618.91L965.7 618.89L966.7 618.87L967.7 618.84L968.7 618.82L969.7 618.8L970.7 618.78L971.7 618.76L972.7 618.74L973.7 618.72L974.7 618.7L975.7 618.68L976.7 618.66L977.7 618.64L978.7 618.62L979.7 618.6L980.7 618.58L981.7 618.56L982.7 618.54L983.7 618.52L984.7 618.5L985.7 618.48L986.7 618.46L987.7 618.44L988.7 618.42L989.7 618.4L990.7 618.38L991.7 618.36L992.7 618.34L993.7 618.32L994.7 618.3L994.9 618.3L995.7 618.28L996.7 618.26L997.7 618.25L998.7 618.23L999.7 618.21L1000.7 618.19L1001.7 618.17L1002.7 618.15L1003.7 618.13L1004.7 618.11L1005.7 618.09L1006.7 618.07L1007.7 618.05L1008.7 618.04L1009.7 618.02L1010.7 618L1011.7 617.98L1012.7 617.96L1013.7 617.94L1014.7 617.92L1015.7 617.9L1015.9 617.9L1016.7 617.88L1017.7 617.87L1018.7 617.85L1019.7 617.83L1020.7 617.81L1021.7 617.79L1022.7 617.77L1023.7 617.75L1024.7 617.73L1025.7 617.71L1026.7 617.69L1027.7 617.67L1028.7 617.65L1029.7 617.63L1030.7 617.61L1031.7 617.59L1032.7 617.57L1033.7 617.56L1034.7 617.54L1035.7 617.52L1036.7 617.5L1037 617.5L1037.7 617.49L1038.7 617.47L1039.7 617.46L1040.7 617.44L1041.7 617.43L1042.7 617.41L1043.7 617.4L1044.7 617.38L1045.7 617.37L1046.7 617.36L1047.7 617.34L1048.7 617.33L1049.7 617.32L1050.7 617.3L1051.7 617.29L1052.7 617.28L1053.7 617.26L1054.7 617.25L1055.7 617.24L1056.7 617.23L1057.7 617.21L1058.7 617.2L1059.7 617.19L1060.7 617.18L1061.7 617.17L1062.7 617.16L1063.15 617.15L1063.7 617.14L1064.7 617.13L1065.7 617.12L1066.7 617.11L1067.7 617.1L1068.7 617.09L1069.7 617.08L1070.7 617.07L1071.7 617.05L1072.7 617.04L1073.7 617.03L1074.7 617.02L1075.7 617.01L1076.7 617L1077.7 616.99L1078.7 616.98L1079.7 616.97L1080.7 616.96L1081.7 616.94L1082.7 616.93L1083.7 616.92L1084.7 616.91L1085.7 616.9L1086.7 616.89L1087.7 616.88L1088.7 616.87L1089.7 616.86L1090.7 616.85L1091.7 616.84L1092.7 616.83L1093.7 616.82L1094.7 616.81L1095.7 616.8L1096.7 616.79L1097.7 616.77L1098.7 616.76L1099.7 616.75L1100.7 616.74L1101.7 616.73L1102.7 616.72L1103.7 616.71L1104.7 616.7L1105.7 616.69L1106.7 616.68L1107.7 616.67L1108.7 616.66L1109.7 616.65L1110.7 616.64L1111.7 616.63L1112.7 616.62L1113.7 616.61L1114.7 616.6L1115.7 616.59L1116.7 616.59L1117.7 616.58L1118.7 616.57L1119.7 616.56L1120.7 616.55L1121.7 616.54L1122.7 616.53L1123.7 616.52L1124.7 616.51L1125.7 616.5L1126.7 616.49L1127.7 616.48L1128.7 616.47L1129.7 616.46L1130.7 616.46L1131.7 616.45L1132.7 616.44L1133.7 616.43L1134.7 616.42L1135.7 616.41L1136.7 616.4L1137.7 616.4L1138.7 616.39L1139.7 616.38L1140.7 616.37L1141.7 616.36L1142.7 616.35L1143.7 616.35L1144.7 616.34L1145.7 616.33L1146.7 616.32L1147.7 616.31L1148.7 616.31L1149.7 616.3L1150.7 616.29L1151.7 616.28L1152.7 616.28L1153.7 616.27L1154.7 616.26L1155.7 616.25L1156.7 616.25L1157.7 616.24L1158.7 616.23L1159.7 616.22L1160.7 616.22L1161.7 616.21L1162.7 616.2L1163.7 616.2L1164.7 616.19L1165.7 616.18L1166.7 616.18L1167.7 616.17L1168.7 616.16L1169.7 616.16L1170.7 616.15L1171.7 616.15L1172.7 616.14L1173.7 616.13L1174.7 616.13L1175.7 616.12L1176.7 616.12L1177.7 616.11L1178.7 616.11L1179.7 616.1" fill="none" stroke="#ff7f0e" stroke-width="8" stroke-linecap="butt" stroke-linejoin="round" stroke-dasharray="8.5 12.47" stroke-dashoffset="0.5"/>
<circle cx="782.7" cy="636.3" r="12.1" fill="#ff7f0e"/>
<circle cx="867.6" cy="622.2" r="12.1" fill="#ff7f0e"/>
<circle cx="960.5" cy="619" r="12.1" fill="#ff7f0e"/>
<circle cx="1063.15" cy="617.15" r="12.1" fill="#ff7f0e"/>
<circle cx="1179.7" cy="616.1" r="12.1" fill="#ff7f0e"/>
<path d="M776.4 921.3L777.1 908.4L777.4 904.97L778 900.1L778.41 897.63L779.4 893.4L779.41 893.36L780.42 890.74L781.42 888.44L782.43 886.46L783.43 884.74L784.44 883.26L785.44 881.99L786.44 880.9L787.4 880L787.45 879.96L788.45 879.11L789.46 878.35L790.46 877.66L791.47 877.03L792.47 876.45L793.48 875.92L794.48 875.42L795.48 874.94L796.49 874.47L797.49 874.01L798.5 873.54L798.8 873.4L799.5 873.07L800.51 872.59L801.51 872.11L802.52 871.65L803.52 871.2L804.52 870.76L805.53 870.35L806.53 869.96L807.54 869.6L808.54 869.27L809.55 868.99L810.1 868.85L810.55 868.74L811.56 868.51L812.56 868.28L813.56 868.06L814.57 867.85L815.57 867.66L816.58 867.48L817.58 867.32L818.59 867.18L819.59 867.06L820.6 866.97L821.6 866.9" fill="none" stroke="#2ca02c" stroke-width="8" stroke-linecap="butt" stroke-linejoin="round" stroke-dasharray="30 12.6"/>
<polygon points="776.4,909.3 779.09,917.59 787.81,917.59 780.76,922.72 783.45,931.01 776.4,925.88 769.35,931.01 772.04,922.72 764.99,917.59 773.71,917.59" fill="#2ca02c" stroke="#2ca02c" stroke-width="4" stroke-linejoin="bevel"/>
<polygon points="787.4,868 790.09,876.29 798.81,876.29 791.76,881.42 794.45,889.71 787.4,884.58 780.35,889.71 783.04,881.42 775.99,876.29 784.71,876.29" fill="#2ca02c" stroke="#2ca02c" stroke-width="4" stroke-linejoin="bevel"/>
<polygon points="798.8,861.4 801.49,869.69 810.21,869.69 803.16,874.82 805.85,883.11 798.8,877.98 791.75,883.11 794.44,874.82 787.39,869.69 796.11,869.69" fill="#2ca02c" stroke="#2ca02c" stroke-width="4" stroke-linejoin="bevel"/>
<polygon points="810.1,856.85 812.79,865.14 821.51,865.14 814.46,870.27 817.15,878.56 810.1,873.43 803.05,878.56 805.74,870.27 798.69,865.14 807.41,865.14" fill="#2ca02c" stroke="#2ca02c" stroke-width="4" stroke-linejoin="bevel"/>
<polygon points="821.6,854.9 824.29,863.19 833.01,863.19 825.96,868.32 828.65,876.61 821.6,871.48 814.55,876.61 817.24,868.32 810.19,863.19 818.91,863.19" fill="#2ca02c" stroke="#2ca02c" stroke-width="4" stroke-linejoin="bevel"/>
<path d="M777.9 724.9L778.91 716.74L779.3 714L779.91 710.2L780.92 704.77L781.3 703L781.92 700.26L782.93 696.42L783.5 695L783.93 694.24L784.94 692.73L785.95 691.53L786.95 690.63L787.96 690.02L788 690L788.96 689.58L789.97 689.2L790.97 688.87L791.98 688.58L792.98 688.34L793.99 688.15L795 687.99L795.8 687.9L796 687.88L797.01 687.78L798.01 687.7L799.02 687.62L800.02 687.55L801.03 687.49L802.04 687.43L803.04 687.38L804.05 687.33L805.05 687.28L806.06 687.24L807.06 687.2L808.07 687.16L809.07 687.11L810.08 687.07L811.09 687.03L812.09 686.98L813.1 686.93L813.6 686.9L814.1 686.87L815.11 686.82L816.11 686.76L817.12 686.7L818.13 686.64L819.13 686.59L820.14 686.53L821.14 686.47L822.15 686.42L823.15 686.36L824.16 686.3L825.16 686.25L826.17 686.19L827.18 686.13L828.18 686.08L829.19 686.02L830.19 685.97L831.2 685.92L831.5 685.9L832.2 685.86L833.21 685.81L834.22 685.76L835.22 685.7L836.23 685.65L837.23 685.6L838.24 685.55L839.24 685.5L840.25 685.45L841.25 685.4L842.26 685.34L843.27 685.29L844.27 685.24L845.28 685.2L846.28 685.15L847.29 685.1L848.29 685.05L849.3 685" fill="none" stroke="#d62728" stroke-width="8" stroke-linecap="square" stroke-linejoin="round"/>
<rect x="765.85" y="712.85" width="24.1" height="24.1" fill="#d62728"/>
<rect x="783.75" y="675.85" width="24.1" height="24.1" fill="#d62728"/>
<rect x="801.55" y="674.85" width="24.1" height="24.1" fill="#d62728"/>
<rect x="819.45" y="673.85" width="24.1" height="24.1" fill="#d62728"/>
<rect x="837.25" y="672.95" width="24.1" height="24.1" fill="#d62728"/>
<path d="M778 720.5L782.5 716L798.8 715L812 713.5L817.5 713L820 708.5L830 708L841 707.2L851 706.5L861.2 705.5" fill="none" stroke="#9467bd" stroke-width="8" stroke-linecap="butt" stroke-linejoin="round" stroke-dasharray="51.1 12 8.7 12"/>
<path d="M768.1 710.6L787.9 730.4M768.1 730.4L787.9 710.6" stroke="#9467bd" stroke-width="4.1" fill="none"/>
<path d="M788.9 705.2L808.7 725M788.9 725L808.7 705.2" stroke="#9467bd" stroke-width="4.1" fill="none"/>
<path d="M810.1 698.1L829.9 717.9M810.1 717.9L829.9 698.1" stroke="#9467bd" stroke-width="4.1" fill="none"/>
<path d="M831.1 697.3L850.9 717.1M831.1 717.1L850.9 697.3" stroke="#9467bd" stroke-width="4.1" fill="none"/>
<path d="M851.3 695.6L871.1 715.4M851.3 715.4L871.1 695.6" stroke="#9467bd" stroke-width="4.1" fill="none"/>
<path d="M776.2 945.5V959.7" stroke="#000" stroke-width="3.3"/>
<path d="M890.6 945.5V959.7" stroke="#000" stroke-width="3.3"/>
<path d="M1004.95 945.5V959.7" stroke="#000" stroke-width="3.3"/>
<path d="M1118.9 945.5V959.7" stroke="#000" stroke-width="3.3"/>
<path d="M756.4 945.5H742.2" stroke="#000" stroke-width="3.3"/>
<path d="M756.4 776.2H742.2" stroke="#000" stroke-width="3.3"/>
<path d="M756.4 606.9H742.2" stroke="#000" stroke-width="3.3"/>
<rect x="756.4" y="599.95" width="443.6" height="345.55" fill="none" stroke="#000" stroke-width="3.3"/>
<text transform="translate(767.68 986.5) scale(0.9800 1)" font-family='"Liberation Sans", sans-serif' font-size="32">0</text>
<text transform="translate(864.73 986.5) scale(0.9700 1)" font-family='"Liberation Sans", sans-serif' font-size="32">200</text>
<text transform="translate(979.51 986.5) scale(0.9700 1)" font-family='"Liberation Sans", sans-serif' font-size="32">400</text>
<text transform="translate(1093.02 986.5) scale(0.9700 1)" font-family='"Liberation Sans", sans-serif' font-size="32">600</text>
<text transform="translate(687.43 957.9) scale(0.9800 1)" font-family='"Liberation Sans", sans-serif' font-size="32">0.0</text>
<text transform="translate(687.52 788.6) scale(0.9800 1)" font-family='"Liberation Sans", sans-serif' font-size="32">0.5</text>
<text transform="translate(687.43 619.3) scale(0.9800 1)" font-family='"Liberation Sans", sans-serif' font-size="32">1.0</text>
<path d="M1305.2 689.5L1306.2 688.82L1307.2 688.16L1308.2 687.51L1309.2 686.87L1310.2 686.26L1311.2 685.67L1312.2 685.11L1313.2 684.57L1314.2 684.07L1315.2 683.59L1316.2 683.15L1317.2 682.74L1318.2 682.37L1318.4 682.3L1319.2 682.03L1320.2 681.72L1321.2 681.42L1322.2 681.14L1323.2 680.87L1324.2 680.62L1325.21 680.37L1326.21 680.14L1327.21 679.92L1328.21 679.7L1329.21 679.49L1330.21 679.27L1331.21 679.06L1332.21 678.85L1333.21 678.64L1333.4 678.6L1334.21 678.43L1335.21 678.21L1336.21 677.99L1337.21 677.78L1338.21 677.57L1339.21 677.35L1340.21 677.14L1341.21 676.93L1342.21 676.72L1343.21 676.52L1344.21 676.32L1345.21 676.12L1346.21 675.92L1347.21 675.73L1348.21 675.54L1349.21 675.35L1350.21 675.17L1351.21 675L1352.21 674.83L1353.21 674.66L1354.21 674.51L1355.21 674.35L1356.21 674.21L1357.21 674.07L1358.21 673.94L1358.5 673.9L1359.21 673.81L1360.21 673.69L1361.21 673.57L1362.21 673.45L1363.21 673.34L1364.21 673.23L1365.22 673.12L1366.22 673.01L1367.22 672.91L1368.22 672.81L1369.22 672.71L1370.22 672.62L1371.22 672.52L1372.22 672.43L1373.22 672.34L1374.22 672.25L1375.22 672.16L1376.22 672.07L1377.22 671.99L1378.22 671.9L1379.22 671.82L1380.22 671.74L1381.22 671.66L1382.22 671.58L1383.22 671.49L1384.22 671.42L1385.22 671.34L1386.22 671.26L1387.22 671.18L1388.22 671.1L1389.22 671.02L1389.45 671L1390.22 670.94L1391.22 670.86L1392.22 670.78L1393.22 670.7L1394.22 670.62L1395.22 670.54L1396.22 670.47L1397.22 670.39L1398.22 670.31L1399.22 670.23L1400.22 670.15L1401.22 670.08L1402.22 670L1403.22 669.92L1404.22 669.85L1405.23 669.77L1406.23 669.7L1407.23 669.62L1408.23 669.54L1409.23 669.47L1410.23 669.39L1411.23 669.32L1412.23 669.25L1413.23 669.17L1414.23 669.1L1415.23 669.02L1416.23 668.95L1417.23 668.88L1418.23 668.81L1419.23 668.73L1420.23 668.66L1421.23 668.59L1422.23 668.52L1423.23 668.45L1424.23 668.38L1425.23 668.3L1426.23 668.23L1427.23 668.16L1428.23 668.1L1429.23 668.03L1430.23 667.96L1431.23 667.89L1432.23 667.82L1433.23 667.75L1434.23 667.68L1435.23 667.62L1436.23 667.55L1437.23 667.48L1438.23 667.42L1439.23 667.35L1440.23 667.29L1441.23 667.22L1442.23 667.16L1443.23 667.09L1444.23 667.03L1445.24 666.96L1446.24 666.9L1447.24 666.84L1448.24 666.78L1449.24 666.71L1450.24 666.65L1451.24 666.59L1452.24 666.53L1453.24 666.47L1454.24 666.41L1455.24 666.35L1456.24 666.29L1457.24 666.23L1458.24 666.17L1459.24 666.11L1460.24 666.06L1461.24 666L1462.24 665.94L1463.24 665.89L1464.24 665.83L1465.24 665.77L1466.24 665.72L1467.24 665.67L1468.24 665.61L1469.24 665.56L1470.24 665.5L1471.24 665.45L1472.24 665.4L1473.24 665.35L1474.24 665.3L1475.24 665.25L1476.24 665.19L1477.24 665.14L1478.24 665.1L1479.24 665.05L1480.24 665L1481.24 664.95L1482.24 664.9L1482.3 664.9L1483.24 664.86L1484.24 664.81L1485.25 664.76L1486.25 664.72L1487.25 664.67L1488.25 664.62L1489.25 664.58L1490.25 664.53L1491.25 664.49L1492.25 664.44L1493.25 664.4L1494.25 664.35L1495.25 664.31L1496.25 664.26L1497.25 664.22L1498.25 664.17L1499.25 664.13L1500.25 664.09L1501.25 664.04L1502.25 664L1503.25 663.96L1504.25 663.92L1505.25 663.87L1506.25 663.83L1507.25 663.79L1508.25 663.75L1509.25 663.71L1510.25 663.66L1511.25 663.62L1512.25 663.58L1513.25 663.54L1514.25 663.5L1515.25 663.46L1516.25 663.42L1517.25 663.38L1518.25 663.34L1519.25 663.3L1520.25 663.26L1521.25 663.22L1522.25 663.18L1523.25 663.15L1524.26 663.11L1525.26 663.07L1526.26 663.03L1527.26 662.99L1528.26 662.96L1529.26 662.92L1530.26 662.88L1531.26 662.84L1532.26 662.81L1533.26 662.77L1534.26 662.73L1535.26 662.7L1536.26 662.66L1537.26 662.63L1538.26 662.59L1539.26 662.55L1540.26 662.52L1541.26 662.48L1542.26 662.45L1543.26 662.41L1544.26 662.38L1545.26 662.35L1546.26 662.31L1547.26 662.28L1548.26 662.24L1549.26 662.21L1550.26 662.18L1551.26 662.15L1552.26 662.11L1553.26 662.08L1554.26 662.05L1555.26 662.02L1556.26 661.98L1557.26 661.95L1558.26 661.92L1559.26 661.89L1560.26 661.86L1561.26 661.83L1562.26 661.8L1563.26 661.77L1564.27 661.73L1565.27 661.7L1566.27 661.67L1567.27 661.64L1568.27 661.62L1569.27 661.59L1570.27 661.56L1571.27 661.53L1572.27 661.5L1573.27 661.47L1574.27 661.44L1575.27 661.41L1576.27 661.39L1577.27 661.36L1578.27 661.33L1579.27 661.3L1580.27 661.28L1581.27 661.25L1582.27 661.22L1583.27 661.19L1584.27 661.17L1584.95 661.15L1585.27 661.14L1586.27 661.12L1587.27 661.09L1588.27 661.06L1589.27 661.04L1590.27 661.01L1591.27 660.99L1592.27 660.96L1593.27 660.93L1594.27 660.91L1595.27 660.88L1596.27 660.86L1597.27 660.83L1598.27 660.81L1599.27 660.78L1600.27 660.75L1601.27 660.73L1602.27 660.7L1603.27 660.68L1604.28 660.65L1605.28 660.63L1606.28 660.6L1607.28 660.58L1608.28 660.55L1609.28 660.53L1610.28 660.51L1611.28 660.48L1612.28 660.46L1613.28 660.43L1614.28 660.41L1615.28 660.38L1616.28 660.36L1617.28 660.34L1618.28 660.31L1619.28 660.29L1620.28 660.27L1621.28 660.24L1622.28 660.22L1623.28 660.19L1624.28 660.17L1625.28 660.15L1626.28 660.13L1627.28 660.1L1628.28 660.08L1629.28 660.06L1630.28 660.03L1631.28 660.01L1632.28 659.99L1633.28 659.97L1634.28 659.94L1635.28 659.92L1636.28 659.9L1637.28 659.88L1638.28 659.86L1639.28 659.84L1640.28 659.81L1641.28 659.79L1642.28 659.77L1643.28 659.75L1644.29 659.73L1645.29 659.71L1646.29 659.69L1647.29 659.67L1648.29 659.65L1649.29 659.63L1650.29 659.61L1651.29 659.59L1652.29 659.57L1653.29 659.55L1654.29 659.53L1655.29 659.51L1656.29 659.49L1657.29 659.47L1658.29 659.45L1659.29 659.43L1660.29 659.41L1661.29 659.39L1662.29 659.37L1663.29 659.36L1664.29 659.34L1665.29 659.32L1666.29 659.3L1667.29 659.28L1668.29 659.27L1669.29 659.25L1670.29 659.23L1671.29 659.21L1672.29 659.2L1673.29 659.18L1674.29 659.16L1675.29 659.15L1676.29 659.13L1677.29 659.11L1678.29 659.1L1679.29 659.08L1680.29 659.07L1681.29 659.05L1682.29 659.03L1683.29 659.02L1684.3 659L1685.3 658.99L1686.3 658.97L1687.3 658.96L1688.3 658.94L1689.3 658.93L1690.3 658.92L1691.3 658.9L1692.3 658.89L1693.3 658.88L1694.3 658.86L1695.3 658.85L1696.3 658.84L1697.3 658.82L1698.3 658.81L1699.3 658.8L1700.3 658.79L1701.3 658.77L1702.3 658.76L1703.3 658.75" fill="none" stroke="#1f77b4" stroke-width="8" stroke-linecap="square" stroke-linejoin="round"/>
<path d="M1305.2 672.5L1322.2 689.5L1305.2 706.5L1288.2 689.5Z" fill="#1f77b4"/>
<path d="M1389.45 654L1406.45 671L1389.45 688L1372.45 671Z" fill="#1f77b4"/>
<path d="M1482.3 647.9L1499.3 664.9L1482.3 681.9L1465.3 664.9Z" fill="#1f77b4"/>
<path d="M1584.95 644.15L1601.95 661.15L1584.95 678.15L1567.95 661.15Z" fill="#1f77b4"/>
<path d="M1703.3 641.75L1720.3 658.75L1703.3 675.75L1686.3 658.75Z" fill="#1f77b4"/>
<path d="M1305.9 689.4L1306.9 689.03L1307.9 688.67L1308.9 688.31L1309.9 687.96L1310.9 687.61L1311.9 687.26L1312.9 686.92L1313.9 686.58L1314.9 686.25L1315.91 685.92L1316.91 685.59L1317.91 685.27L1318.91 684.96L1319.91 684.64L1320.91 684.34L1321.91 684.03L1322.91 683.74L1323.91 683.44L1324.91 683.16L1325.91 682.87L1326.91 682.6L1327.91 682.32L1328.91 682.05L1329.5 681.9L1329.91 681.79L1330.91 681.53L1331.91 681.27L1332.91 681.02L1333.91 680.77L1334.92 680.52L1335.92 680.28L1336.92 680.03L1337.92 679.8L1338.92 679.56L1339.92 679.33L1340.92 679.11L1341.92 678.89L1342.92 678.67L1343.92 678.46L1344.92 678.26L1345.92 678.06L1346.92 677.86L1347.92 677.67L1348.92 677.49L1349.92 677.31L1350 677.3L1350.92 677.14L1351.92 676.98L1352.92 676.81L1353.92 676.66L1354.93 676.5L1355.93 676.35L1356.93 676.2L1357.93 676.06L1358.93 675.91L1359.93 675.78L1360.93 675.64L1361.93 675.51L1362.93 675.37L1363.93 675.24L1364.93 675.11L1365.93 674.99L1366.93 674.86L1367.93 674.74L1368.93 674.62L1369.93 674.49L1370.7 674.4L1370.93 674.37L1371.93 674.25L1372.93 674.13L1373.94 674.02L1374.94 673.91L1375.94 673.79L1376.94 673.68L1377.94 673.58L1378.94 673.47L1379.94 673.36L1380.94 673.26L1381.94 673.15L1382.94 673.05L1383.94 672.95L1384.94 672.85L1385.94 672.74L1386.94 672.64L1387.94 672.54L1388.94 672.44L1389.94 672.34L1390.94 672.23L1391.94 672.13L1392.95 672.03L1393.95 671.92L1394.6 671.85L1394.95 671.81L1395.95 671.7L1396.95 671.6L1397.95 671.48L1398.95 671.37L1399.95 671.26L1400.95 671.15L1401.95 671.04L1402.95 670.93L1403.95 670.82L1404.95 670.7L1405.95 670.6L1406.95 670.49L1407.95 670.38L1408.95 670.28L1409.95 670.18L1410.95 670.08L1411.96 669.98L1412.8 669.9L1412.96 669.89L1413.96 669.79L1414.96 669.7L1415.96 669.61L1416.96 669.52L1417.96 669.44L1418.96 669.35L1419.96 669.26L1420.96 669.18L1421.96 669.1L1422.96 669.01L1423.96 668.93L1424.96 668.85L1425.96 668.77L1426.96 668.7L1427.96 668.62L1428.96 668.54L1429.96 668.47L1430.96 668.4L1431.97 668.32L1432.97 668.25L1433.7 668.2L1433.97 668.18L1434.97 668.11L1435.97 668.04L1436.97 667.98L1437.97 667.91L1438.97 667.84L1439.97 667.78L1440.97 667.72L1441.97 667.65L1442.97 667.59L1443.97 667.53L1444.97 667.47L1445.97 667.41L1446.97 667.35L1447.97 667.29L1448.97 667.23L1449.97 667.17L1450.98 667.11L1451.98 667.06L1452.98 667L1453.98 666.94L1454.7 666.9L1454.98 666.88L1455.98 666.83L1456.98 666.77L1457.98 666.72L1458.98 666.66L1459.98 666.61L1460.98 666.56L1461.98 666.5L1462.98 666.45L1463.98 666.4L1464.98 666.35L1465.98 666.3L1466.98 666.24L1467.98 666.19L1468.98 666.14L1469.99 666.09L1470.99 666.04L1471.99 665.99L1472.99 665.94L1473.99 665.89L1474.99 665.84L1475.99 665.79L1476.99 665.74L1477.99 665.69L1478.99 665.64L1479.99 665.58L1480.99 665.53L1481.99 665.48L1482.99 665.43L1483.99 665.37L1484.4 665.35L1484.99 665.32L1485.99 665.26L1486.99 665.21L1487.99 665.15L1489 665.09L1490 665.03L1491 664.97L1492 664.91L1493 664.85L1494 664.79L1495 664.73L1496 664.67L1497 664.61L1498 664.55L1499 664.49L1500 664.43L1501 664.36L1502 664.3L1503 664.25L1504 664.19L1505 664.13L1506 664.07L1507 664.01L1508 663.96L1509.01 663.9L1510.01 663.85L1511.01 663.8L1512.01 663.75L1513.01 663.7L1514.01 663.65L1515.01 663.6L1516.01 663.56L1517.01 663.52L1517.4 663.5L1518.01 663.48L1519.01 663.43L1520.01 663.39L1521.01 663.35L1522.01 663.31L1523.01 663.28L1524.01 663.24L1525.01 663.2L1526.01 663.16L1527.01 663.13L1528.02 663.09L1529.02 663.06L1530.02 663.03L1531.02 662.99L1532.02 662.96L1533.02 662.93L1534.02 662.91L1535.02 662.88L1536.02 662.85L1537.02 662.83L1538.02 662.81L1538.5 662.8L1539.02 662.79L1540.02 662.77L1541.02 662.75L1542.02 662.74L1543.02 662.72L1544.02 662.71L1545.02 662.69L1546.02 662.68L1547.03 662.66L1548.03 662.65L1549.03 662.64L1550.03 662.63L1551.03 662.61L1552.03 662.6L1553.03 662.59L1554.03 662.58L1555.03 662.56L1556.03 662.55L1557.03 662.54L1558.03 662.52L1559.03 662.51L1559.5 662.5L1560.03 662.49L1561.03 662.48L1562.03 662.46L1563.03 662.44L1564.03 662.43L1565.03 662.41L1566.04 662.39L1567.04 662.38L1568.04 662.36L1569.04 662.34L1570.04 662.33L1571.04 662.31L1572.04 662.29L1573.04 662.27L1574.04 662.25L1575.04 662.24L1576.04 662.22L1577.04 662.2L1578.04 662.18L1579.04 662.16L1580.04 662.14L1581.04 662.12L1582.04 662.1L1582.1 662.1L1583.04 662.08L1584.04 662.06L1585.04 662.04L1586.05 662.02L1587.05 662L1588.05 661.98L1589.05 661.96L1590.05 661.94L1591.05 661.92L1592.05 661.9L1593.05 661.87L1594.05 661.85L1595.05 661.83L1596.05 661.81L1597.05 661.79L1598.05 661.77L1599.05 661.75L1600.05 661.72L1601.05 661.7L1602.05 661.68L1603.05 661.66L1604.05 661.64L1605.06 661.61L1606.06 661.59L1607.06 661.57L1608.06 661.55L1609.06 661.53L1610.06 661.5L1611.06 661.48L1612.06 661.46L1613.06 661.43L1614.06 661.41L1615.06 661.39L1616.06 661.37L1617.06 661.34L1618.06 661.32L1619.06 661.29L1620.06 661.27L1621.06 661.25L1622.06 661.22L1623.06 661.2L1624.07 661.18L1625.07 661.15L1626.07 661.13L1627.07 661.1L1628.07 661.08L1629.07 661.05L1630.07 661.03L1631.07 661L1632.07 660.98L1633.07 660.95L1634.07 660.93L1635.07 660.9L1636.07 660.88L1637.07 660.85L1638.07 660.83L1639.07 660.8L1640.07 660.78L1641.07 660.75L1642.07 660.72L1643.08 660.7L1644.08 660.67L1645.08 660.65L1646.08 660.62L1647.08 660.59L1648.08 660.57L1649.08 660.54L1650.08 660.51L1651.08 660.49L1652.08 660.46L1653.08 660.43L1654.08 660.4L1655.08 660.38L1656.08 660.35L1657.08 660.32L1658.08 660.29L1659.08 660.26L1660.08 660.24L1661.08 660.21L1662.08 660.18L1663.09 660.15L1664.09 660.12L1665.09 660.09L1666.09 660.07L1667.09 660.04L1668.09 660.01L1669.09 659.98L1670.09 659.95L1671.09 659.92L1672.09 659.89L1673.09 659.86L1674.09 659.83L1675.09 659.8L1676.09 659.77L1677.09 659.74L1678.09 659.71L1679.09 659.68L1680.09 659.65L1681.09 659.62L1682.1 659.59L1683.1 659.55L1684.1 659.52L1685.1 659.49L1686.1 659.46L1687.1 659.43L1688.1 659.4L1689.1 659.36L1690.1 659.33L1691.1 659.3" fill="none" stroke="#ff7f0e" stroke-width="8" stroke-linecap="butt" stroke-linejoin="round" stroke-dasharray="8.5 12.47" stroke-dashoffset="0.5"/>
<circle cx="1305.9" cy="689.4" r="12.1" fill="#ff7f0e"/>
<circle cx="1394.6" cy="671.85" r="12.1" fill="#ff7f0e"/>
<circle cx="1484.4" cy="665.35" r="12.1" fill="#ff7f0e"/>
<circle cx="1582.1" cy="662.1" r="12.1" fill="#ff7f0e"/>
<circle cx="1691.1" cy="659.3" r="12.1" fill="#ff7f0e"/>
<path d="M1300 890.9L1300.9 877L1301 875.48L1302.01 862L1302.1 861.4L1303.01 857.31L1304.02 854.38L1305.02 852.08L1305.5 850.9L1306.03 849.49L1307.03 846.77L1308.03 844.1L1309.04 841.61L1310.04 839.41L1311.05 837.61L1311.8 836.6L1312.05 836.32L1313.06 835.27L1314.06 834.32L1315.06 833.46L1316.07 832.69L1317.07 831.99L1318.08 831.34L1319.08 830.75L1320.09 830.19L1321.09 829.65L1322.09 829.13L1323.1 828.61L1323.4 828.45L1324.1 828.09L1325.11 827.58L1326.11 827.09L1327.11 826.62L1328.12 826.16L1329.12 825.72L1330.13 825.31L1331.13 824.91L1332.14 824.54L1333.14 824.18L1334.14 823.85L1335.15 823.54L1335.3 823.5L1336.15 823.25L1337.16 822.97L1338.16 822.7L1339.17 822.44L1340.17 822.19L1341.17 821.95L1342.18 821.72L1343.18 821.51L1344.19 821.32L1345.19 821.14L1346.2 820.99L1347.2 820.85" fill="none" stroke="#2ca02c" stroke-width="8" stroke-linecap="butt" stroke-linejoin="round" stroke-dasharray="30 12.6" stroke-dashoffset="1.2"/>
<polygon points="1300,878.9 1302.69,887.19 1311.41,887.19 1304.36,892.32 1307.05,900.61 1300,895.48 1292.95,900.61 1295.64,892.32 1288.59,887.19 1297.31,887.19" fill="#2ca02c" stroke="#2ca02c" stroke-width="4" stroke-linejoin="bevel"/>
<polygon points="1311.8,824.6 1314.49,832.89 1323.21,832.89 1316.16,838.02 1318.85,846.31 1311.8,841.18 1304.75,846.31 1307.44,838.02 1300.39,832.89 1309.11,832.89" fill="#2ca02c" stroke="#2ca02c" stroke-width="4" stroke-linejoin="bevel"/>
<polygon points="1323.4,816.45 1326.09,824.74 1334.81,824.74 1327.76,829.87 1330.45,838.16 1323.4,833.03 1316.35,838.16 1319.04,829.87 1311.99,824.74 1320.71,824.74" fill="#2ca02c" stroke="#2ca02c" stroke-width="4" stroke-linejoin="bevel"/>
<polygon points="1335.3,811.5 1337.99,819.79 1346.71,819.79 1339.66,824.92 1342.35,833.21 1335.3,828.08 1328.25,833.21 1330.94,824.92 1323.89,819.79 1332.61,819.79" fill="#2ca02c" stroke="#2ca02c" stroke-width="4" stroke-linejoin="bevel"/>
<polygon points="1347.2,808.85 1349.89,817.14 1358.61,817.14 1351.56,822.27 1354.25,830.56 1347.2,825.43 1340.15,830.56 1342.84,822.27 1335.79,817.14 1344.51,817.14" fill="#2ca02c" stroke="#2ca02c" stroke-width="4" stroke-linejoin="bevel"/>
<path d="M1300 762.05L1301 756.13L1302 751L1302 750.98L1303.01 746.34L1304.01 742.4L1304.5 741L1305.01 739.83L1306.01 737.84L1307.01 736.43L1307.5 736L1308.02 735.66L1309.02 735.1L1310.02 734.66L1311.02 734.33L1312.03 734.12L1312.2 734.1L1313.03 734L1314.03 733.9L1315.03 733.81L1316.03 733.73L1317.04 733.67L1318.04 733.61L1319.04 733.56L1320.04 733.51L1321.04 733.47L1322.05 733.42L1323.05 733.37L1324.05 733.31L1324.2 733.3L1325.05 733.25L1326.05 733.19L1327.06 733.13L1328.06 733.07L1329.06 733.01L1330.06 732.95L1331.06 732.89L1332.07 732.83L1333.07 732.78L1334.07 732.72L1335.07 732.66L1336.07 732.6L1336.1 732.6L1337.08 732.54L1338.08 732.48L1339.08 732.43L1340.08 732.37L1341.09 732.31L1342.09 732.25L1343.09 732.19L1344.09 732.13L1345.09 732.07L1346.1 732.02L1347.1 731.96L1348.1 731.9" fill="none" stroke="#d62728" stroke-width="8" stroke-linecap="square" stroke-linejoin="round"/>
<rect x="1287.95" y="750" width="24.1" height="24.1" fill="#d62728"/>
<rect x="1300.15" y="722.05" width="24.1" height="24.1" fill="#d62728"/>
<rect x="1312.15" y="721.25" width="24.1" height="24.1" fill="#d62728"/>
<rect x="1324.05" y="720.55" width="24.1" height="24.1" fill="#d62728"/>
<rect x="1336.05" y="719.85" width="24.1" height="24.1" fill="#d62728"/>
<path d="M1300.5 758.2L1304.5 755.5L1320.3 754.3L1332 752.5L1338 751.5L1340.3 748.5L1350 748L1359.7 747.25L1370 746L1379.8 744.6" fill="none" stroke="#9467bd" stroke-width="8" stroke-linecap="butt" stroke-linejoin="round" stroke-dasharray="51.1 12 8.7 12"/>
<path d="M1290.6 748.3L1310.4 768.1M1290.6 768.1L1310.4 748.3" stroke="#9467bd" stroke-width="4.1" fill="none"/>
<path d="M1310.4 744.5L1330.2 764.3M1310.4 764.3L1330.2 744.5" stroke="#9467bd" stroke-width="4.1" fill="none"/>
<path d="M1330.4 738.35L1350.2 758.15M1330.4 758.15L1350.2 738.35" stroke="#9467bd" stroke-width="4.1" fill="none"/>
<path d="M1349.8 737.35L1369.6 757.15M1349.8 757.15L1369.6 737.35" stroke="#9467bd" stroke-width="4.1" fill="none"/>
<path d="M1369.9 734.7L1389.7 754.5M1369.9 754.5L1389.7 734.7" stroke="#9467bd" stroke-width="4.1" fill="none"/>
<path d="M1298.95 945.5V959.7" stroke="#000" stroke-width="3.3"/>
<path d="M1423.6 945.5V959.7" stroke="#000" stroke-width="3.3"/>
<path d="M1548.2 945.5V959.7" stroke="#000" stroke-width="3.3"/>
<path d="M1672.8 945.5V959.7" stroke="#000" stroke-width="3.3"/>
<path d="M1279.85 945.5H1265.65" stroke="#000" stroke-width="3.3"/>
<path d="M1279.85 772.7H1265.65" stroke="#000" stroke-width="3.3"/>
<path d="M1279.85 599.95H1265.65" stroke="#000" stroke-width="3.3"/>
<rect x="1279.85" y="599.95" width="443.75" height="345.55" fill="none" stroke="#000" stroke-width="3.3"/>
<text transform="translate(1290.43 986.5) scale(0.9800 1)" font-family='"Liberation Sans", sans-serif' font-size="32">0</text>
<text transform="translate(1397.73 986.5) scale(0.9700 1)" font-family='"Liberation Sans", sans-serif' font-size="32">200</text>
<text transform="translate(1522.76 986.5) scale(0.9700 1)" font-family='"Liberation Sans", sans-serif' font-size="32">400</text>
<text transform="translate(1646.92 986.5) scale(0.9700 1)" font-family='"Liberation Sans", sans-serif' font-size="32">600</text>
<text transform="translate(1210.88 957.9) scale(0.9800 1)" font-family='"Liberation Sans", sans-serif' font-size="32">0.0</text>
<text transform="translate(1210.97 785.1) scale(0.9800 1)" font-family='"Liberation Sans", sans-serif' font-size="32">0.5</text>
<text transform="translate(1210.88 612.35) scale(0.9800 1)" font-family='"Liberation Sans", sans-serif' font-size="32">1.0</text>
<text y="1036.3" font-family='"Liberation Sans", sans-serif' font-size="31.8"><tspan x="311.67" textLength="77.08" lengthAdjust="spacingAndGlyphs">Mean</tspan> <tspan x="401.06" textLength="73.1" lengthAdjust="spacingAndGlyphs">Time</tspan> <tspan x="485.31" textLength="67.78" lengthAdjust="spacingAndGlyphs">(sec)</tspan></text>
<text y="1036.3" font-family='"Liberation Sans", sans-serif' font-size="31.8"><tspan x="857.37" textLength="77.08" lengthAdjust="spacingAndGlyphs">Mean</tspan> <tspan x="946.76" textLength="73.1" lengthAdjust="spacingAndGlyphs">Time</tspan> <tspan x="1031.01" textLength="67.78" lengthAdjust="spacingAndGlyphs">(sec)</tspan></text>
<text y="1036.3" font-family='"Liberation Sans", sans-serif' font-size="31.8"><tspan x="1380.97" textLength="77.08" lengthAdjust="spacingAndGlyphs">Mean</tspan> <tspan x="1470.36" textLength="73.1" lengthAdjust="spacingAndGlyphs">Time</tspan> <tspan x="1554.61" textLength="67.78" lengthAdjust="spacingAndGlyphs">(sec)</tspan></text>
<text transform="translate(126.2 396.9) rotate(-90)"><tspan x="-2.53" textLength="77.24" lengthAdjust="spacingAndGlyphs" font-family='"Liberation Sans", sans-serif' font-size="31.8">Mean</tspan> <tspan x="88.11" textLength="23.99" lengthAdjust="spacingAndGlyphs" font-family='"Liberation Serif", serif' font-size="34" font-style="italic" dy="0.1">P</tspan><tspan x="112.97" textLength="13.08" lengthAdjust="spacingAndGlyphs" font-family='"Liberation Serif", serif' font-size="30" dy="-5.6">*</tspan></text>
<text transform="translate(126.2 835.5) rotate(-90)"><tspan x="-2.53" textLength="77.24" lengthAdjust="spacingAndGlyphs" font-family='"Liberation Sans", sans-serif' font-size="31.8">Mean</tspan> <tspan x="88.11" textLength="23.99" lengthAdjust="spacingAndGlyphs" font-family='"Liberation Serif", serif' font-size="34" font-style="italic" dy="0.1">P</tspan><tspan x="112.97" textLength="13.08" lengthAdjust="spacingAndGlyphs" font-family='"Liberation Serif", serif' font-size="30" dy="-5.6">*</tspan></text>
<text transform="translate(357.38 124.6) scale(1.0443 1.0000)" font-family='"Liberation Serif", serif' font-size="47">easy</text>
<text transform="translate(851.36 124.6) scale(1.0551 1.0000)" font-family='"Liberation Serif", serif' font-size="47">medium</text>
<text transform="translate(1421.39 124.6) scale(1.1033 1.0000)" font-family='"Liberation Serif", serif' font-size="47">hard</text>
<text transform="translate(33.5 402.95) rotate(-90)"><tspan x="-2.91" textLength="30.37" lengthAdjust="spacingAndGlyphs" font-family='"Liberation Serif", serif' font-size="47" font-style="italic" stroke="#fff" stroke-width="1">ψ</tspan><tspan x="28.75" textLength="17.11" lengthAdjust="spacingAndGlyphs" font-family='"Liberation Serif", serif' font-size="33" dy="7.3">0</tspan> <tspan x="60.16" textLength="48.31" lengthAdjust="spacingAndGlyphs" font-family='"DejaVu Sans", "DejaVu Sans Light", sans-serif' font-size="60" font-weight="200" dy="-0.89">→</tspan> <tspan x="119.96" textLength="30.69" lengthAdjust="spacingAndGlyphs" font-family='"Liberation Serif", serif' font-size="47" font-style="italic" stroke="#fff" stroke-width="1" dy="-6.41">ψ</tspan><tspan x="151.92" textLength="16.12" lengthAdjust="spacingAndGlyphs" font-family='"Liberation Serif", serif' font-size="33" dy="7.1">1</tspan></text>
<text transform="translate(33.5 888.55) rotate(-90)"><tspan x="-2.91" textLength="30.37" lengthAdjust="spacingAndGlyphs" font-family='"Liberation Serif", serif' font-size="47" font-style="italic" stroke="#fff" stroke-width="1">ψ</tspan><tspan x="28.75" textLength="17.11" lengthAdjust="spacingAndGlyphs" font-family='"Liberation Serif", serif' font-size="33" dy="7.3">0</tspan> <tspan x="60.16" textLength="48.31" lengthAdjust="spacingAndGlyphs" font-family='"DejaVu Sans", "DejaVu Sans Light", sans-serif' font-size="60" font-weight="200" dy="-0.89">→</tspan> <tspan x="119.96" textLength="30.69" lengthAdjust="spacingAndGlyphs" font-family='"Liberation Serif", serif' font-size="47" font-style="italic" stroke="#fff" stroke-width="1" dy="-6.41">ψ</tspan><tspan x="151.42" textLength="17.46" lengthAdjust="spacingAndGlyphs" font-family='"Liberation Serif", serif' font-size="33" dy="7.3">2</tspan></text>
<path d="M188.45 16.8H276.3" stroke="#1f77b4" stroke-width="8" fill="none" stroke-linecap="butt"/>
<path d="M232.4 -0.2L249.4 16.8L232.4 33.8L215.4 16.8Z" fill="#1f77b4"/>
<path d="M605.3 16.8H685.3" stroke="#ff7f0e" stroke-width="8" fill="none" stroke-linecap="butt" stroke-dasharray="8.5 12.6"/>
<circle cx="645.7" cy="16.8" r="12.1" fill="#ff7f0e"/>
<path d="M949 16.8H1029" stroke="#2ca02c" stroke-width="8" fill="none" stroke-linecap="butt" stroke-dasharray="29.6 12.4"/>
<polygon points="988.7,4.8 991.39,13.09 1000.11,13.09 993.06,18.22 995.75,26.51 988.7,21.38 981.65,26.51 984.34,18.22 977.29,13.09 986.01,13.09" fill="#2ca02c" stroke="#2ca02c" stroke-width="4" stroke-linejoin="bevel"/>
<path d="M1193.4 16.8H1281.2" stroke="#d62728" stroke-width="8" fill="none" stroke-linecap="butt"/>
<rect x="1225.35" y="4.75" width="24.1" height="24.1" fill="#d62728"/>
<path d="M1447 16.8H1527" stroke="#9467bd" stroke-width="8" fill="none" stroke-linecap="butt" stroke-dasharray="51.1 12 8.7 12"/>
<path d="M1477.1 6.9L1496.9 26.7M1477.1 26.7L1496.9 6.9" stroke="#9467bd" stroke-width="4.1" fill="none"/>
<text y="30.75" font-family='"Liberation Sans", sans-serif' font-size="39.5"><tspan x="304.24" textLength="55.6" lengthAdjust="spacingAndGlyphs">MF</tspan> <tspan x="374.2" textLength="130.88" lengthAdjust="spacingAndGlyphs">SaasBO</tspan></text>
<text transform="translate(716.7 30.75) scale(0.8897 1.0000)" font-family='"Liberation Sans", sans-serif' font-size="39.5">SaasBO</text>
<text transform="translate(1060.54 30.75) scale(0.9742 1.0000)" font-family='"Liberation Sans", sans-serif' font-size="39.5">BO</text>
<text transform="translate(1309.44 30.75) scale(0.8786 1.0000)" font-family='"Liberation Sans", sans-serif' font-size="39.5">CG</text>
<text transform="translate(1558.5 30.75) scale(1.0173 1.0000)" font-family='"Liberation Sans", sans-serif' font-size="39.5">NM</text>
</svg>
</body></html>
